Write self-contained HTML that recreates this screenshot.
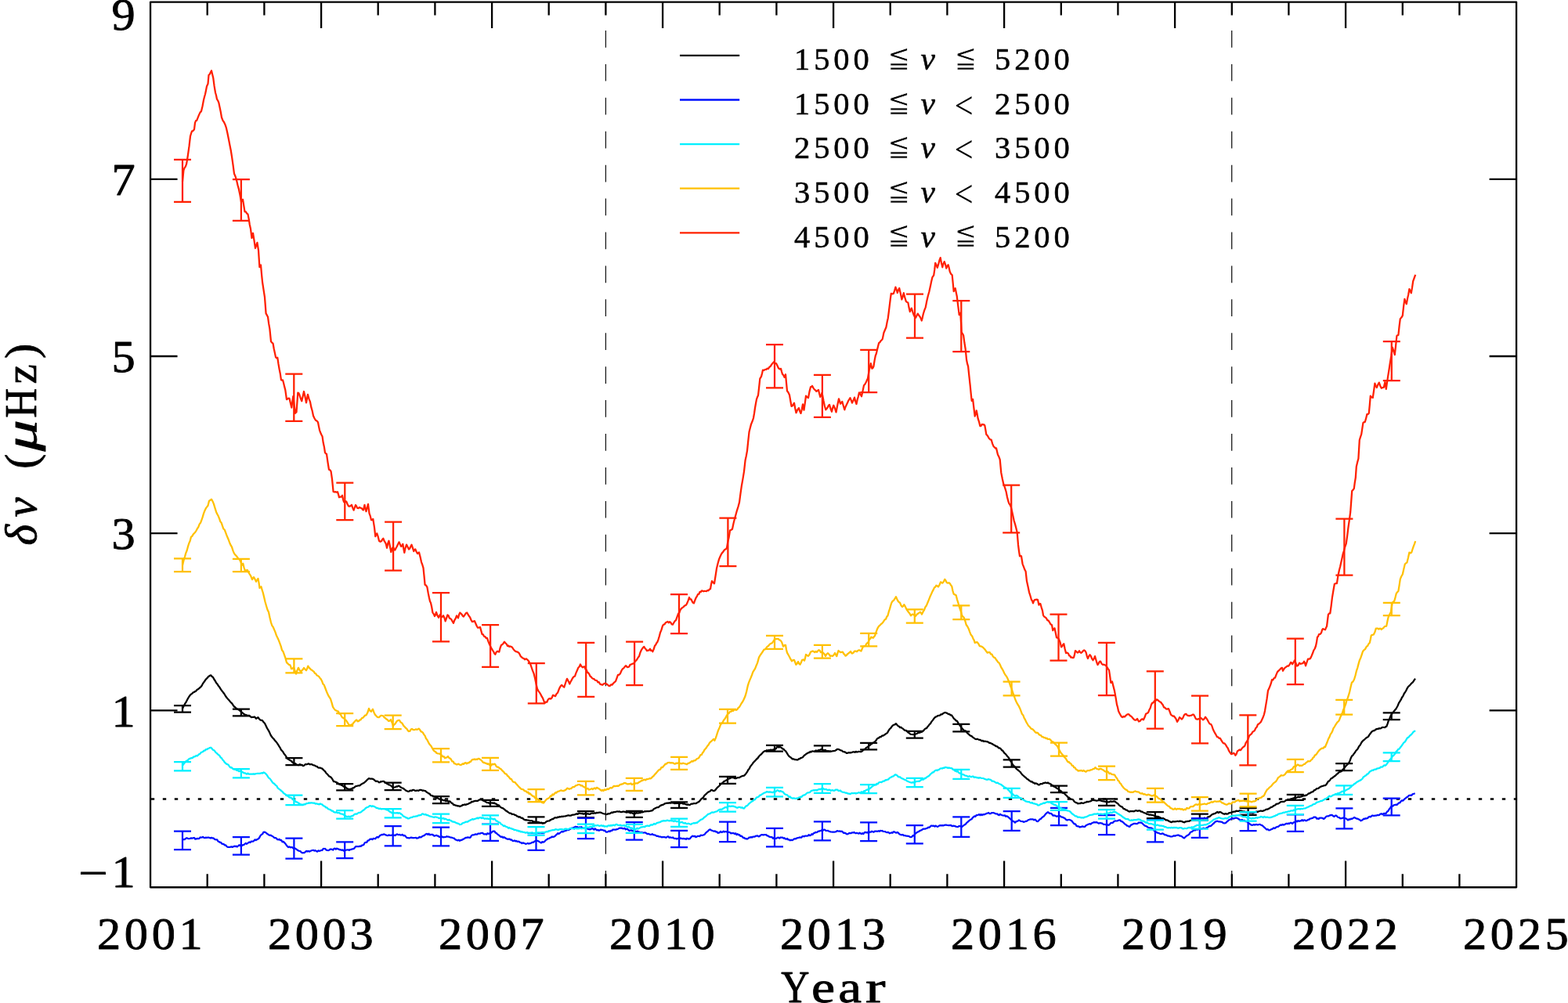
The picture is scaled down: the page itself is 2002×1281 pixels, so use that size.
<!DOCTYPE html>
<html lang="en"><head><meta charset="utf-8"><title>Frequency shift vs year</title>
<style>
html,body{margin:0;padding:0;background:#fff;}
body{width:2002px;height:1281px;overflow:hidden;}
svg{display:block;}
.t{font-family:"Liberation Serif",serif;fill:#000;}
.ax{font-size:57px;letter-spacing:4.42px;stroke:#000;stroke-width:0.8px;stroke-linejoin:round;}
.lg{font-size:40.5px;letter-spacing:4.9px;stroke:#000;stroke-width:0.5px;stroke-linejoin:round;}
.m{font-family:"DejaVu Sans",sans-serif;}
.op{stroke:#fff;stroke-width:0.9px;letter-spacing:0;}
.ltc{letter-spacing:0;stroke:none;}
.i{font-style:italic;}
.fr{fill:none;stroke:#000;stroke-width:2.3;stroke-linejoin:round;}
.c{fill:none;stroke-width:2.25;stroke-linejoin:round;stroke-linecap:butt;}
</style></head><body>
<svg width="2002" height="1281" viewBox="0 0 2002 1281">
<rect x="0" y="0" width="2002" height="1281" fill="#fff"/>
<path d="M192.8 1020.45H1936" fill="none" stroke="#000" stroke-width="2.4" stroke-dasharray="4.4 10.6"/>
<path d="M773.4 2.4V1133" fill="none" stroke="#1a1a1a" stroke-width="1.3" stroke-dasharray="21.7 21.22" stroke-dashoffset="6.32"/>
<path d="M1572.7 2.4V1133" fill="none" stroke="#1a1a1a" stroke-width="1.3" stroke-dasharray="21.7 21.22" stroke-dashoffset="6.32"/>
<path class="c" stroke="#000000" d="M233 905L234.5 901.7L236 899L237.3 897.2L238.7 894.5L240 892L241.3 889.9L242.7 887.8L244 886.6L245.2 885.9L246.5 884.4L247.8 884L249 883.1L250.2 882.6L251.5 881L252.8 880.2L254 879.4L255.3 878.2L256.7 877L258 875.1L259.3 872.6L260.7 870.8L262 868.8L263.3 867.1L264.7 865.9L266 864.2L267.1 863.5L268.2 862.8L269.3 862.4L270.6 864.1L272 864.9L273.3 867.5L274.7 869.5L276 871.9L277.3 873.4L278.7 875.7L280 877.2L281.3 879.3L282.7 881.5L284 883.1L285.3 884.8L286.7 886.7L288 889L289.3 890.7L290.7 892.4L292 893.8L293.3 895.4L294.7 897.1L296 898.1L297.5 900.4L299 902.5L300.2 903.3L301.5 904.6L302.8 905.6L304 906L305.3 906.8L306.7 907.9L308 909.1L309.3 910.2L310.7 911.3L312 912.3L313.2 913L314.5 913.2L315.8 913.8L317 913.8L318.3 913.8L319.7 915.1L321 916.1L322.3 915.9L323.7 915.9L325 915.5L326 916.5L327 917.8L328.2 917L329.5 916.2L330.8 918L332 919.2L333.5 919.9L335 920.2L336.5 922.3L338 923.8L339.5 926.7L341 930L342.5 932.4L344 935.1L345.5 938.6L347 941.1L348.3 942.6L349.7 943.8L351 945.8L352.3 947.1L353.7 948.9L355 950.8L356.2 952.9L357.5 954.8L358.8 957.5L360 958.8L361.3 960.2L362.7 962.8L364 964.2L365.5 966.5L367 969L368.3 969.7L369.7 970.6L371 971.5L372.2 972L373.5 973.9L374.8 974.6L376 975.2L377.3 975.2L378.7 976.5L380 976.8L381.3 977.1L382.7 976.1L384 976.5L385.5 976.8L387 978.2L388.5 977.5L390 976L391.5 976.3L393 975.7L394.3 975.3L395.7 976.3L397 976.2L398.2 976.2L399.5 977.2L400.8 977.3L402 977.8L403.3 978.6L404.7 978.9L406 980.2L407.2 980.6L408.5 980.5L409.8 981.1L411 981.4L412.3 982.6L413.7 984L415 985.2L416.3 987.2L417.7 988.5L419 990L420.3 991.5L421.7 992.1L423 993.1L424.5 995.3L426 998.2L427.2 998.1L428.5 998.9L429.8 999.2L431 999.9L432.2 1000.9L433.5 1002L434.8 1001.7L436 1003L437.2 1003.2L438.5 1004.4L439.8 1004.8L441 1005.2L442.3 1006.6L443.7 1007.2L445 1007.9L446.3 1008.1L447.7 1007.7L449 1007.5L450.3 1006.3L451.7 1006.3L453 1005L454.2 1004.2L455.5 1004L456.8 1003.5L458 1003.4L459.2 1003.3L460.4 1002.3L461.6 1001.4L462.8 1000.8L464 1000.3L465.3 999.3L466.7 998.2L468 996.8L469.5 995.4L471 994.2L472.2 994.5L473.5 994.5L474.8 994.6L476 994.9L477.3 995.6L478.7 996.8L480 997.8L481.2 997.7L482.5 998L483.8 999.3L485 999.2L486.2 998.2L487.5 998.3L488.8 997.8L490 997.9L491.3 999.1L492.7 999.7L494 1001L495.2 1001.3L496.5 1002.3L497.8 1002.5L499 1003.5L500.5 1004.7L502 1005.9L503.3 1005.5L504.7 1005.3L506 1004.4L507.3 1004.7L508.7 1003.7L510 1004.1L511.2 1005.1L512.5 1006L513.8 1006.5L515 1006.9L516.3 1008.2L517.7 1009.2L519 1010L520.5 1010.6L522 1010.8L523.2 1009.9L524.5 1009.6L525.8 1010L527 1008.8L528.2 1008.9L529.5 1009.6L530.8 1009.9L532 1009.6L533.2 1009.5L534.5 1009.8L535.8 1008.9L537 1008.8L538.2 1009L539.5 1009.8L540.8 1009.5L542 1010L543.3 1010.2L544.7 1011.7L546 1012.2L547.2 1013.5L548.5 1013.6L549.8 1015.6L551 1016.2L552.3 1016.3L553.7 1017.2L555 1017.8L556.2 1018.3L557.5 1019.3L558.8 1019L560 1020.1L561.2 1020.8L562.5 1020.3L563.8 1020.8L565 1021.7L566.2 1022.3L567.5 1022L568.8 1023.1L570 1023.1L571.2 1022.7L572.5 1023.8L573.8 1023.4L575 1023.9L576.3 1025.6L577.7 1025.8L579 1027.8L580.3 1027.9L581.7 1028.7L583 1028.9L584.3 1029.4L585.7 1029.3L587 1030L588.2 1029.4L589.5 1029.1L590.8 1027.9L592 1028.1L593.2 1027.4L594.5 1027.9L595.8 1027.2L597 1027.1L598.5 1026.2L600 1025.4L601 1025.3L602 1023.9L603.2 1024.2L604.4 1023.6L605.6 1023.1L606.8 1022.9L608 1022.9L609.2 1022.9L610.4 1022.6L611.6 1021.6L612.8 1021.4L614 1021.3L615.2 1021.4L616.4 1022.2L617.6 1022.9L618.8 1023.2L620 1024.1L621.2 1024.7L622.4 1025.2L623.6 1025.2L624.8 1026.2L626 1026L627.2 1025.5L628.5 1025.4L629.8 1025.9L631 1025.3L632.2 1026.4L633.5 1026.6L634.8 1027.9L636 1028.2L637.2 1028.6L638.4 1030.3L639.6 1031.2L640.8 1031.9L642 1032.2L643.2 1033.2L644.4 1033.8L645.6 1035.4L646.8 1035.7L648 1036.8L649.2 1037.5L650.4 1038.5L651.6 1038.5L652.8 1039.1L654 1040L655.2 1039.8L656.4 1040.2L657.6 1041L658.8 1041.2L660 1042.4L661.2 1042.7L662.4 1043.6L663.6 1043.2L664.8 1044.2L666 1044.9L667.2 1044.7L668.4 1046.2L669.6 1046.9L670.8 1047.3L672 1047.2L673.2 1047.5L674.4 1047.7L675.6 1047.9L676.8 1048.4L678 1048.1L679.2 1048.1L680.4 1049.4L681.6 1049.2L682.8 1049.7L684 1049.8L685.2 1050.2L686.5 1049.8L687.8 1050.1L689 1050.6L690.2 1050.9L691.5 1050.6L692.8 1051.7L694 1051.2L695.2 1051.2L696.5 1050.3L697.8 1049.1L699 1048.7L700.2 1048.5L701.5 1048.4L702.8 1047.1L704 1046.7L705.2 1045.9L706.4 1046.1L707.6 1044.8L708.8 1044.2L710 1044.3L711.2 1044.3L712.4 1043.5L713.6 1043.7L714.8 1043L716 1043.3L717.2 1042.6L718.4 1043L719.6 1042.6L720.8 1042.5L722 1042.4L723.2 1041.9L724.4 1041.6L725.6 1041.2L726.8 1041.6L728 1041.5L729.2 1041.5L730.4 1040.8L731.6 1040.5L732.8 1040.5L734 1040.3L735.2 1039.7L736.4 1039.4L737.6 1039.8L738.8 1038.7L740 1038.6L741.2 1038.9L742.4 1039.1L743.6 1038.9L744.8 1039.7L746 1039.2L747.2 1039.5L748.4 1040.1L749.6 1039.3L750.8 1039.2L752 1039.9L753.2 1039.9L754.4 1039L755.6 1038.7L756.8 1038.5L758 1038.8L759.2 1038.2L760.4 1038.7L761.6 1037.9L762.8 1038.2L764 1037.9L765.2 1037.7L766.4 1037.6L767.6 1037.9L768.8 1038.5L770 1039L771.3 1039.3L772.7 1039.5L774 1040.2L775.2 1040L776.4 1039.1L777.6 1039.4L778.8 1039L780 1038.2L781.2 1037.5L782.4 1038L783.6 1037L784.8 1037.2L786 1036.9L787.2 1036.5L788.4 1036.3L789.6 1036.7L790.8 1036.3L792 1037L793.2 1037.1L794.4 1036.9L795.6 1036.5L796.8 1036.6L798 1037L799.2 1037.4L800.4 1037.7L801.6 1037L802.8 1037.4L804 1037.9L805.2 1038.4L806.4 1037.8L807.6 1038.6L808.8 1039.1L810 1038.8L811.2 1039.1L812.4 1037.9L813.6 1038.4L814.8 1038.5L816 1037.9L817.2 1038.2L818.4 1037.5L819.6 1037.2L820.8 1037.3L822 1036.8L823.2 1036.1L824.4 1036.4L825.6 1036.1L826.8 1036.1L828 1036L829.3 1036L830.7 1035.7L832 1035.3L833.2 1035.1L834.5 1033.3L835.8 1032.8L837 1032L838.2 1031.5L839.5 1031L840.8 1031L842 1029.9L843.2 1028.9L844.5 1028.4L845.8 1027.9L847 1027.6L848.2 1026.8L849.5 1026.1L850.8 1025.8L852 1025.5L853.2 1025.9L854.4 1025.2L855.6 1025.8L856.8 1025.1L858 1025.5L859.2 1025.4L860.4 1025.8L861.6 1026.2L862.8 1025.5L864 1026L865.2 1025.6L866.4 1026L867.6 1025.9L868.8 1026.1L870 1025.4L871.2 1026.1L872.4 1026.7L873.6 1026.1L874.8 1027L876 1027.4L877.2 1027.8L878.5 1027.4L879.8 1028.1L881 1027.8L882.2 1026.9L883.5 1026.5L884.8 1026.5L886 1026L887.3 1026.2L888.7 1026.1L890 1025.2L891.3 1024.5L892.7 1023.8L894 1022.1L895.3 1020.5L896.7 1019.5L898 1018.4L899.2 1016.3L900.5 1014.9L901.8 1013.9L903 1012.6L904.2 1011.7L905.5 1011L906.8 1010.4L908 1008.9L909.3 1009.2L910.7 1010.2L912 1010L913.3 1009L914.7 1007.2L916 1005.6L917.2 1004.8L918.5 1003.5L919.8 1002L921 1001L922.2 1000L923.5 998.9L924.8 997.7L926 997.2L927.3 996.6L928.7 995.6L930 994.7L931.2 994.3L932.5 993.9L933.8 993.1L935 992.9L936.2 993.1L937.5 993.8L938.8 994.2L940 994.1L941.2 993.4L942.5 993.1L943.8 993.2L945 992.4L946.2 991.8L947.5 991.2L948.8 990.9L950 990.7L951.3 989.4L952.7 987.7L954 985.9L955.3 983.3L956.7 981.7L958 979L959.3 977.4L960.7 975.6L962 973.7L963.3 972.4L964.7 970.9L966 969.5L967.3 968.5L968.7 966.5L970 964.9L971.3 963.9L972.7 962.5L974 961L975.2 959.9L976.5 959.1L977.8 959.3L979 958.2L980.2 958.7L981.5 958L982.8 958.1L984 957.6L985.2 957.8L986.4 957.7L987.6 957.8L988.8 956.5L990 956.7L991 955.9L992 953.9L993.2 953.7L994.4 954.6L995.6 954L996.8 954.4L998 955.1L999.2 956.5L1000.5 956.7L1001.8 958.4L1003 959.1L1004.5 961.4L1006 963.8L1007.2 965.6L1008.5 966.7L1009.8 967.4L1011 968.7L1012.2 969.5L1013.5 969.4L1014.8 970.2L1016 970.2L1017.2 970.4L1018.5 970.5L1019.8 969.2L1021 969.3L1022.2 968.1L1023.5 967.8L1024.8 967.3L1026 965.7L1027.2 964.4L1028.5 963.7L1029.8 962.5L1031 962.1L1032.2 961.1L1033.4 961.1L1034.6 959.9L1035.8 960.4L1037 959.4L1038.2 959.5L1039.4 959.6L1040.6 959.2L1041.8 958.5L1043 959L1044.2 958.5L1045.4 957.9L1046.6 958L1047.8 957.4L1049 956.9L1050.2 957.6L1051.4 958.1L1052.6 958L1053.8 957.9L1055 959L1056.2 959L1057.5 959.1L1058.8 959.8L1060 959.3L1061.2 959.6L1062.5 959.5L1063.8 959L1065 959L1066.2 958.8L1067.5 958.1L1068.8 956.9L1070 956.9L1071.2 957.3L1072.4 957.8L1073.6 958.4L1074.8 958.5L1076 959.7L1077.2 960.2L1078.4 960.4L1079.6 960.9L1080.8 961.8L1082 961.8L1083.2 961.2L1084.4 961.4L1085.6 961.2L1086.8 961.3L1088 960.8L1089.2 960.4L1090.4 960.4L1091.6 960.8L1092.8 959.8L1094 960.5L1095.2 960.3L1096.4 959.8L1097.6 960L1098.8 960.2L1100 959.9L1101.2 959.1L1102.5 957.4L1103.8 957.2L1105 956.1L1106.2 954.8L1107.5 954.3L1108.8 953.1L1110 951.9L1111.2 951.4L1112.4 950.1L1113.6 949.6L1114.8 948.7L1116 948L1117.2 947.2L1118.5 945.8L1119.8 943.6L1121 942.8L1122.2 942.4L1123.5 941.2L1124.8 941.2L1126 939.7L1127.2 939.6L1128.4 939.1L1129.6 938.4L1130.8 937.2L1132 936.8L1133.3 935.4L1134.7 932.8L1136 931L1137.3 929.9L1138.7 927.8L1140 926.4L1141.3 925.6L1142.7 925.4L1144 924.2L1145.3 925.7L1146.7 927.2L1148 927.7L1149.2 929.2L1150.5 928.9L1151.8 930.1L1153 930.8L1154.2 932L1155.5 932.9L1156.8 932.8L1158 933.8L1159.2 935.2L1160.5 936L1161.8 937.2L1163 937.9L1164.2 938L1165.5 938.2L1166.8 938.2L1168 937.9L1169.2 937.5L1170.5 937L1171.8 936.2L1173 936L1174.2 935.6L1175.5 935.1L1176.8 935L1178 933.9L1179.2 933.2L1180.5 931.4L1181.8 930.4L1183 930.1L1184.2 928.3L1185.5 926.9L1186.8 925.1L1188 924.1L1189.3 921.8L1190.7 920.1L1192 918.3L1193.3 916.6L1194.7 915.5L1196 915.1L1197.3 914.1L1198.7 913.9L1200 913.7L1201.3 912.4L1202.7 912.3L1204 911.3L1205.5 910.4L1207 910L1208.3 910.5L1209.7 911.1L1211 912.1L1212.3 912.2L1213.7 913.4L1215 913.4L1216.5 915.6L1218 917.8L1219.3 918.8L1220.7 920.4L1222 920.8L1223.5 923.6L1225 925.7L1226.3 927.5L1227.7 929.7L1229 930.8L1230.2 932.5L1231.5 933L1232.8 933.3L1234 934.7L1235.2 936.5L1236.5 937.4L1237.8 938.6L1239 939.6L1240.2 939.8L1241.5 941.1L1242.8 942.1L1244 942.9L1245.2 943.8L1246.4 944.2L1247.6 943.7L1248.8 944.3L1250 944.8L1251.2 944.8L1252.4 945.5L1253.6 946.4L1254.8 945.9L1256 947L1257.2 946.7L1258.4 946.9L1259.6 947.1L1260.8 947.4L1262 947.8L1263.2 948.9L1264.4 948.8L1265.6 949.6L1266.8 949.9L1268 950.9L1269.2 951.5L1270.4 952.1L1271.6 953.2L1272.8 953.2L1274 954L1275.2 955.4L1276.5 955.4L1277.8 956.4L1279 958.1L1280.2 958.6L1281.5 960.5L1282.8 962.2L1284 963.1L1285.2 964.6L1286.5 966.3L1287.8 967.6L1289 970.1L1290.2 971.8L1291.5 973.5L1292.8 976.3L1294 977.7L1295.2 978.8L1296.5 980.3L1297.8 982L1299 983L1300.2 983.8L1301.5 985L1302.8 986.1L1304 987.9L1305.2 989.4L1306.5 990.5L1307.8 991.6L1309 992.7L1310.2 993.7L1311.5 995L1312.8 995.6L1314 996.8L1315.2 997.5L1316.4 998.5L1317.6 998.1L1318.8 999.6L1320 999.7L1321.2 1000.8L1322.4 1000.4L1323.6 1000.8L1324.8 1001.4L1326 1002.4L1327.2 1002.3L1328.4 1001.1L1329.6 1001L1330.8 1001.1L1332 1000L1333.2 1000.2L1334.4 999.5L1335.6 999.7L1336.8 1000.2L1338 999.5L1339 1000.5L1340 1000.7L1341.5 1001.4L1343 1002.8L1344.5 1003.6L1346 1004.8L1347.5 1005.3L1349 1006.5L1350.5 1007.2L1352 1008.4L1353.5 1009.9L1355 1010.5L1356.5 1012.7L1358 1012.9L1359.5 1013.9L1361 1015.5L1362.5 1016.9L1363.7 1018.3L1365 1018.7L1366.2 1020L1367.5 1020.6L1368.7 1020.8L1370 1021.3L1371.2 1023.2L1372.5 1024.4L1373.7 1025.1L1375 1025.4L1376.2 1026.4L1377.5 1026.2L1379 1026.2L1380.5 1025.3L1382 1025.7L1383.5 1025.9L1385 1024.8L1386.5 1024.7L1388 1023.8L1389.5 1024.2L1391 1023.5L1392.5 1023.3L1393.9 1022.4L1395.4 1021.6L1396.9 1022.2L1398.4 1022.2L1399.9 1022.7L1401.4 1022.5L1402.9 1022L1404.4 1022.2L1405.9 1022.6L1407.4 1023.1L1408.9 1023.4L1410.4 1023.7L1411.9 1024L1413.4 1024.2L1414.9 1024.4L1416.4 1024.3L1417.9 1023.4L1419.4 1023.9L1420.9 1023.7L1422.4 1023.4L1423.9 1023.8L1425.4 1025.2L1426.9 1026.1L1428.4 1027.8L1429.9 1029.1L1431.4 1030.1L1432.9 1030.6L1434.4 1032.8L1435.9 1033.2L1437.4 1034.5L1438.9 1034.6L1440.4 1035.9L1441.9 1036.6L1443.4 1036L1444.9 1036.2L1446.4 1036L1447.9 1036.3L1449.4 1035.4L1450.9 1035.2L1452.4 1035.8L1453.9 1035.4L1455.4 1035.3L1456.9 1036.6L1458.4 1036.7L1459.9 1037.8L1461.4 1038.3L1462.9 1038.7L1464.4 1039.8L1465.9 1039.9L1467.4 1040.7L1468.9 1040.5L1470.4 1040.9L1471.9 1041.1L1473.4 1041.8L1474.9 1042.3L1476.4 1042.8L1477.9 1042.8L1479.4 1043.2L1480.9 1044L1482.4 1045L1483.9 1045.6L1485.4 1045.3L1486.9 1046L1488.4 1047.3L1489.9 1047.4L1491.4 1048L1492.9 1049L1494.4 1049.6L1495.9 1050.2L1497.4 1049.1L1498.9 1049.4L1500.4 1049.3L1501.9 1049.2L1503.4 1048.7L1504.9 1049.2L1506.3 1048.6L1507.8 1048.9L1509.3 1049.2L1510.8 1049.9L1512.3 1050.3L1513.8 1049.3L1515.3 1049.1L1516.8 1048.9L1518.3 1048.8L1519.8 1048L1521.3 1047.7L1522.8 1046.6L1524.3 1046.2L1525.8 1046.1L1527.3 1045.4L1528.8 1045.4L1530.3 1045.4L1531.8 1045.5L1533.3 1045.2L1534.8 1045.2L1536.3 1045.4L1537.8 1044.6L1539.3 1045L1540.8 1044.8L1542.3 1043.4L1543.8 1043.2L1545.3 1042.2L1546.8 1040.8L1548.3 1039.9L1549.8 1039.4L1551.3 1039L1552.8 1038L1554.3 1037L1555.8 1038L1557.3 1037L1558.8 1037.3L1560.3 1038.4L1561.8 1039.2L1563.3 1039.8L1564.8 1039.1L1566.3 1039.6L1567.8 1039.5L1569.3 1038.2L1570.8 1038.1L1572.3 1037.5L1573.8 1037.1L1575.3 1036.7L1576.8 1036.7L1578.3 1035.7L1579.8 1035.8L1581.3 1035.9L1582.8 1035.2L1584.3 1035.7L1585.8 1035.9L1587.3 1036.6L1588.8 1036.4L1590 1037.1L1591.2 1036.8L1592.4 1037.3L1593.6 1037L1594.8 1037.9L1596 1038.1L1597.2 1038L1598.4 1038.1L1599.6 1038.5L1600.8 1037.7L1602 1037.2L1603.2 1036.8L1604.4 1036.5L1605.6 1037.1L1606.8 1036.3L1608 1036L1609.2 1035.6L1610.3 1035.7L1611.5 1035.9L1612.7 1035.6L1613.9 1035.1L1615.1 1034.7L1616.3 1033.8L1617.5 1033.5L1618.7 1033.5L1619.9 1032.8L1621.1 1032.3L1622.3 1031.2L1623.5 1031L1624.7 1030.3L1625.9 1029.3L1627.1 1028.7L1628.3 1028.2L1629.5 1026.8L1630.7 1026.6L1632.2 1026.4L1633.7 1025.3L1635.2 1024.2L1636.4 1024L1637.6 1023.9L1638.8 1023.9L1640 1023.6L1641 1022.9L1642 1021.9L1643.2 1022L1644.4 1020.9L1645.6 1021.4L1646.8 1020.8L1648 1020.6L1649.2 1020.9L1650.4 1019.7L1651.6 1019.9L1652.8 1018.6L1654 1019L1655.2 1018.8L1656.4 1018.2L1657.6 1017.4L1658.8 1018.2L1660 1017.5L1661.2 1017.6L1662.4 1017L1663.6 1016.7L1664.8 1016L1666 1016.4L1667.2 1015.5L1668.4 1015.5L1669.6 1014.5L1670.8 1013.4L1672 1013.3L1673.2 1012.5L1674.4 1011.7L1675.6 1011.5L1676.8 1010.8L1678 1009.2L1679.3 1008.9L1680.7 1007.4L1682 1007.1L1683.3 1006.9L1684.7 1005.7L1686 1004.8L1687.2 1004.4L1688.4 1004L1689.6 1003.6L1690.8 1003.2L1692 1003.2L1693.3 1002.1L1694.7 999.9L1696 997.9L1697.2 997.4L1698.4 995.9L1699.6 994.2L1700.8 993.8L1702 992.7L1703.2 991.9L1704.4 991L1705.6 990.1L1706.8 988.7L1708 988L1709.2 986.5L1710.5 985.9L1711.8 985.4L1713 984.9L1714.3 983L1715.7 981.9L1717 979.9L1718.2 978.5L1719.5 977.2L1720.8 975.9L1722 974.6L1723.3 972.3L1724.7 968.3L1726 965.7L1727.3 964.6L1728.7 962.6L1730 961L1731.3 958.8L1732.7 957.5L1734 955.6L1735.3 952.9L1736.7 951.4L1738 948.9L1739.3 947L1740.7 945.6L1742 944.6L1743.2 943.5L1744.5 942.3L1745.8 941.6L1747 940.9L1748.3 938.6L1749.7 936.8L1751 935L1752.2 933.9L1753.5 933.2L1754.8 933.2L1756 931.9L1757.2 931.4L1758.4 930.9L1759.6 931L1760.8 930.1L1762 930.5L1763.2 930.2L1764.5 929.2L1765.8 928.8L1767 929L1768.1 929.1L1769.2 928.2L1770.3 927.9L1771.7 924.2L1773 919.9L1774.3 917.4L1775.7 914L1777 911.9L1778.2 910.2L1779.5 908.8L1780.8 907.1L1782 905.9L1783.3 903.7L1784.7 901.2L1786 897.8L1787.3 895.8L1788.7 893.7L1790 890.8L1791.3 889.1L1792.7 886L1794 884.1L1795.3 882L1796.7 879.1L1798 877L1799.3 875.8L1800.7 874.5L1802 872.9L1803.2 871.9L1804.5 870.4L1805.8 868.3L1807 866.7"/>
<path class="c" stroke="#000000" d="M233.0 901.0 V909.6 M222.0 901.0 h22 M222.0 909.6 h22M307.9 905.6 V914.4 M296.9 905.6 h22 M296.9 914.4 h22M375.4 968.0 V977.2 M364.4 968.0 h22 M364.4 977.2 h22M440.2 1001.0 V1009.4 M429.2 1001.0 h22 M429.2 1009.4 h22M501.7 999.6 V1009.0 M490.7 999.6 h22 M490.7 1009.0 h22M563.0 1017.0 V1026.0 M552.0 1017.0 h22 M552.0 1026.0 h22M626.0 1021.8 V1029.8 M615.0 1021.8 h22 M615.0 1029.8 h22M684.5 1043.4 V1051.2 M673.5 1043.4 h22 M673.5 1051.2 h22M748.0 1036.0 V1044.0 M737.0 1036.0 h22 M737.0 1044.0 h22M809.8 1035.8 V1043.9 M798.8 1035.8 h22 M798.8 1043.9 h22M867.1 1024.4 V1031.8 M856.1 1024.4 h22 M856.1 1031.8 h22M929.0 991.9 V1000.8 M918.0 991.9 h22 M918.0 1000.8 h22M989.0 951.9 V959.5 M978.0 951.9 h22 M978.0 959.5 h22M1049.9 952.3 V959.9 M1038.9 952.3 h22 M1038.9 959.9 h22M1109.1 948.9 V957.3 M1098.1 948.9 h22 M1098.1 957.3 h22M1167.8 933.9 V942.5 M1156.8 933.9 h22 M1156.8 942.5 h22M1227.3 924.9 V934.3 M1216.3 924.9 h22 M1216.3 934.3 h22M1291.7 970.3 V979.5 M1280.7 970.3 h22 M1280.7 979.5 h22M1352.0 1003.7 V1012.1 M1341.0 1003.7 h22 M1341.0 1012.1 h22M1413.0 1020.3 V1028.9 M1402.0 1020.3 h22 M1402.0 1028.9 h22M1474.9 1037.1 V1045.1 M1463.9 1037.1 h22 M1463.9 1045.1 h22M1531.8 1039.7 V1047.5 M1520.8 1039.7 h22 M1520.8 1047.5 h22M1593.6 1032.2 V1040.9 M1582.6 1032.2 h22 M1582.6 1040.9 h22M1653.8 1014.8 V1021.8 M1642.8 1014.8 h22 M1642.8 1021.8 h22M1716.2 975.2 V984.2 M1705.2 975.2 h22 M1705.2 984.2 h22M1776.7 910.3 V919.1 M1765.7 910.3 h22 M1765.7 919.1 h22"/>
<path class="c" stroke="#0010ff" d="M233 1072.9L234.3 1072L235.7 1072.2L237 1070.9L238.4 1070.2L239.8 1070.8L241.2 1071.1L242.6 1071L244 1070.3L245.3 1070.7L246.7 1070.2L248 1070L249.3 1071.7L250.7 1071.3L252 1070.9L253.2 1071.2L254.4 1070.9L255.6 1069.3L256.8 1069.7L258 1069.5L259.2 1068.8L260.4 1070L261.6 1070.2L262.8 1069.6L264 1069.8L265.2 1069.7L266.4 1069.6L267.6 1070L268.8 1070.5L270 1069.8L271.2 1070.5L272.4 1070.3L273.6 1071.5L274.8 1072.2L276 1072.3L277.2 1072.4L278.4 1074.5L279.6 1075L280.8 1075.8L282 1075.8L283.2 1077.7L284.5 1077.8L285.8 1078.2L287 1079.5L288.2 1079.4L289.5 1081.1L290.8 1081.9L292 1081.9L293.2 1082L294.4 1081.6L295.6 1081.4L296.8 1081.9L298 1081.3L299.2 1080.6L300.4 1081.2L301.6 1080.6L302.8 1081.5L304 1080.5L305.2 1079.3L306.4 1080L307.6 1078.8L308.8 1080.1L310 1079.1L311.2 1079.1L312.4 1078L313.6 1077L314.8 1077.8L316 1077.1L317.2 1076.2L318.4 1075.5L319.6 1076L320.8 1074.6L322 1074.5L323.2 1074.6L324.4 1073.7L325.6 1072.3L326.8 1073.1L328 1072.3L329.5 1071.6L331 1070.1L332.5 1067.3L334 1065.7L335.2 1065.3L336.3 1062.9L337.5 1062.7L339 1063L340.5 1064.5L342 1065.4L343.2 1066.4L344.4 1066.8L345.6 1066.7L346.8 1067.5L348 1068L349.2 1069L350.5 1070.2L351.8 1070.1L353 1070.7L354.2 1072.2L355.5 1072.4L356.8 1071.9L358 1073.1L359.2 1073L360.5 1075.3L361.8 1074.8L363 1076.2L364.3 1077.4L365.7 1079.5L367 1081L368.2 1082.1L369.5 1081.5L370.8 1082.3L372 1082L373.2 1082.2L374.5 1083.5L375.8 1082.9L377 1083.8L378.2 1084.4L379.5 1085.5L380.8 1086.4L382 1086.8L383.4 1087L384.9 1088.7L386.3 1089.3L387.5 1089L388.8 1089.1L390 1087.8L391.2 1086.8L392.4 1087.6L393.6 1087L394.8 1087.6L396 1087.1L397.3 1086.5L398.7 1086L400 1085.8L401.3 1086.6L402.7 1086.2L404 1087.1L405.2 1087.6L406.5 1086.4L407.8 1086.8L409 1086.5L410.2 1085.9L411.5 1086L412.8 1083.8L414 1084L415.2 1083.9L416.5 1085.6L417.8 1085.8L419 1086.2L420.2 1085.8L421.5 1084.7L422.8 1084.5L424 1084.9L425.2 1085.5L426.4 1083.8L427.6 1083.6L428.8 1084.7L430 1083.6L431.2 1084.2L432.5 1084.6L433.8 1085.3L435 1085.2L436.2 1085.9L437.5 1085.3L438.8 1086.6L440 1086.3L441.2 1085.8L442.4 1085.5L443.6 1085.4L444.8 1085.4L446 1085.9L447.2 1085L448.5 1084.9L449.8 1084.3L451 1084.1L452.2 1083.6L453.5 1081.8L454.8 1081L456 1081.1L457.2 1081.1L458.4 1081.2L459.6 1080.6L460.8 1080.8L462 1079.7L463.2 1079.5L464.5 1078.7L465.8 1076.2L467 1075.8L468.2 1075.8L469.5 1073.7L470.8 1073.4L472 1072.1L473.2 1071.6L474.4 1071.5L475.6 1072.2L476.8 1070.8L478 1071L479.2 1071.3L480.4 1069.8L481.6 1068.8L482.8 1069.7L484 1068.4L485.2 1067.1L486.4 1066.5L487.6 1065.9L488.8 1066.2L490 1065.3L491.2 1065.8L492.5 1066.4L493.8 1066.9L495 1067.2L496.4 1066.4L497.8 1066.8L499.2 1066.8L500.6 1066.5L502 1067L503.2 1066.6L504.4 1067L505.6 1066.2L506.8 1065.4L508 1065.8L509.2 1066.1L510.4 1065.9L511.6 1066.6L512.8 1066.4L514 1065.9L515.2 1067.4L516.4 1067L517.6 1067.8L518.8 1069.4L520 1070.2L521.2 1070.2L522.4 1070.5L523.6 1070L524.8 1069.6L526 1069.9L527.2 1070.2L528.4 1070.2L529.6 1070L530.8 1069.8L532 1070.6L533.2 1070.3L534.4 1070.2L535.6 1068.8L536.8 1069.4L538 1069.1L539.2 1068L540.4 1067.4L541.6 1067.2L542.8 1066L544 1065.2L545.2 1064.8L546.4 1065.9L547.6 1064.8L548.8 1066.4L550 1065.8L551.2 1065.9L552.4 1065.9L553.6 1067.1L554.8 1067.6L556 1067.2L557.2 1066.8L558.4 1067.6L559.6 1067.7L560.8 1068.8L562 1068.8L563.2 1069.2L564.4 1068.5L565.6 1069.4L566.8 1069.1L568 1069.2L569.2 1069L570.4 1068.2L571.6 1068.6L572.8 1068.6L574 1069.2L575.2 1069.5L576.4 1069.5L577.6 1070L578.8 1070.4L580 1070.7L581.4 1072.4L582.8 1072.7L584.2 1073.4L585.6 1072.7L587 1073.9L588.2 1072.8L589.4 1073L590.6 1072.1L591.8 1071.6L593 1071L594.4 1069.9L595.8 1069.8L597.2 1069.4L598.6 1069.6L600 1069.8L601 1069L602 1067.1L603.2 1066.4L604.4 1066.3L605.6 1066.2L606.8 1065.3L608 1065.6L609.2 1065.7L610.4 1064.7L611.6 1064.6L612.8 1064.7L614 1064L615.2 1063.8L616.4 1063.9L617.6 1065.3L618.8 1065.4L620 1065.2L621.2 1065.8L622.4 1064.1L623.6 1064.9L624.8 1064.6L626 1063.5L627.4 1063.5L628.7 1062L630 1061.5L631.4 1061.6L632.6 1063.6L633.8 1063.9L635 1065.3L636.2 1066.2L637.5 1067.2L638.8 1068.4L640 1068.9L641.2 1068.6L642.4 1069.9L643.6 1069.2L644.8 1070L646 1070.8L647.2 1071.4L648.4 1071.8L649.6 1071.5L650.8 1071.7L652 1072.7L653.2 1072.3L654.4 1073.9L655.6 1074.1L656.8 1073.4L658 1074.4L659.2 1073.9L660.4 1074.8L661.6 1074.7L662.8 1074.8L664 1075.8L665.2 1076.1L666.4 1077.1L667.6 1076.4L668.8 1076.9L670 1077.1L671.2 1077.9L672.5 1077.5L673.8 1077L675 1077.6L676.2 1077.2L677.5 1077.1L678.8 1076.3L680 1075.6L681.2 1075.8L682.5 1074.5L683.8 1073.9L685 1073.9L686.2 1073.9L687.4 1074.3L688.6 1075.1L689.8 1075.8L691 1076.5L692.2 1075.2L693.5 1075.6L694.8 1075.2L696 1073.9L697.2 1072.7L698.5 1072L699.8 1071L701 1070.9L702.2 1069.9L703.5 1069.7L704.8 1068.5L706 1069L707.2 1068.7L708.5 1068.1L709.8 1066.6L711 1065.6L712.2 1064.2L713.5 1064.9L714.8 1064L716 1063L717.2 1062L718.5 1062.5L719.8 1061.7L721 1061.2L722.2 1061.1L723.5 1060.5L724.8 1059.6L726 1060.1L727.2 1059.4L728.5 1058.5L729.8 1057.7L731 1057.7L732.2 1057.1L733.5 1056.6L734.8 1055.8L736 1056L737.2 1056.2L738.5 1057.3L739.8 1056.4L741 1056.6L742.2 1056.2L743.5 1057.1L744.8 1057.7L746 1058L747.2 1057.7L748.5 1058.3L749.8 1057.8L751 1059L752.2 1059.2L753.5 1059.3L754.8 1058.6L756 1058.2L757.2 1058.4L758.5 1059.6L759.8 1058.3L761 1059.4L762.2 1060.4L763.5 1059.8L764.8 1060.8L766 1060.2L767.2 1059.6L768.5 1060L769.8 1060.1L771 1060.9L772.3 1060.7L773.7 1062.7L775 1062.7L776.2 1062.2L777.5 1061.3L778.8 1062.1L780 1060.8L781.2 1061L782.5 1059.5L783.8 1059.7L785 1059.5L786.2 1059.6L787.5 1059.2L788.8 1059L790 1058L791.2 1057.6L792.5 1057.5L793.8 1057.6L795 1058.1L796.2 1058.4L797.5 1057.6L798.8 1059.4L800 1058.7L801.2 1058.9L802.5 1060.2L803.8 1061L805 1060.5L806.2 1060.3L807.5 1061.2L808.8 1061L810 1061.8L811.2 1061.6L812.4 1062.4L813.6 1061.6L814.8 1062.1L816 1062.5L817.2 1063L818.4 1063.2L819.6 1063L820.8 1063.7L822 1063.5L823.2 1063.4L824.4 1063.6L825.6 1064.5L826.8 1065.2L828 1064.8L829.2 1065.5L830.4 1065.9L831.6 1065.9L832.8 1065.1L834 1066.1L835.2 1066.3L836.4 1066.5L837.6 1067.3L838.8 1067.9L840 1067.7L841.2 1068.5L842.4 1068.6L843.6 1068.6L844.8 1069.3L846 1069.1L847.2 1069L848.4 1069L849.6 1069.6L850.8 1069.7L852 1068.5L853.2 1068.3L854.4 1069.8L855.6 1069.4L856.8 1069.7L858 1069.9L859.2 1069.5L860.4 1070.7L861.6 1071L862.8 1070.8L864 1071.5L865.2 1071.2L866.4 1070.5L867.6 1071.6L868.8 1070.3L870 1070.9L871.2 1071.3L872.4 1070.9L873.6 1071.3L874.8 1071.1L876 1071.8L877.2 1070.7L878.5 1071.2L879.8 1071.6L881 1071L882.2 1069.4L883.5 1068.2L884.7 1067.6L886 1068.4L887.2 1067.7L888.5 1069.2L889.7 1068.6L891 1067.8L892.2 1067.9L893.5 1068.1L894.7 1066.7L896 1066.8L897.2 1066.8L898.5 1066.3L899.7 1065.7L901 1063.9L902.4 1062.7L903.7 1061.7L905.2 1060L906.7 1059.3L908 1060.4L909.2 1060.8L910.5 1061.3L911.7 1061.6L912.9 1061.3L914.1 1062.5L915.3 1062.3L916.5 1063.8L917.7 1063.6L918.9 1063.1L920.1 1061.9L921.3 1063L922.5 1062.6L923.7 1061.7L924.9 1062.5L926.1 1062L927.3 1062.2L928.5 1062.7L929.7 1062.7L930.9 1062.8L932.1 1063.3L933.3 1064.4L934.5 1064L935.7 1064.2L936.9 1064.2L938.1 1065.2L939.3 1064.3L940.5 1066L941.7 1065.1L942.9 1066.3L944.1 1066.2L945.3 1067.9L946.5 1067.6L947.7 1068.5L949 1070.1L950.2 1069.9L951.5 1071.1L952.7 1071.2L954 1071.6L955.2 1070.9L956.5 1069.5L957.7 1069.7L958.9 1069L960.1 1069.5L961.3 1068.6L962.5 1068.5L963.7 1068.5L964.9 1067.7L966.1 1067.7L967.3 1067.4L968.5 1068.3L969.7 1068.1L970.9 1066.9L972.1 1066.2L973.3 1066.2L974.5 1066.5L975.7 1066L976.9 1066.1L978.1 1066L979.3 1067.3L980.5 1067.4L981.7 1068.4L983 1068.8L984.4 1069.2L985.7 1069.1L987 1070.8L988.4 1069.6L989.7 1070.6L991.1 1070.9L992.5 1069.8L993.9 1069.6L995.2 1070.6L996.6 1069.5L998 1069.7L999.2 1069.7L1000.4 1070.7L1001.6 1070.2L1002.8 1071.5L1004 1071.7L1005.2 1071L1006.4 1072.4L1007.6 1072.4L1008.8 1073.3L1010 1072.6L1011.2 1073.2L1012.4 1072.7L1013.6 1071.6L1014.8 1071.2L1016 1071.4L1017.2 1070.5L1018.4 1070.1L1019.6 1070L1020.8 1069.4L1022 1069.6L1023.2 1069.7L1024.4 1068.2L1025.6 1068L1026.8 1068.4L1028 1067.5L1029.2 1067.5L1030.4 1067.7L1031.6 1067.4L1032.8 1066.1L1034 1067.1L1035.2 1066.7L1036.4 1065.1L1037.6 1065.8L1038.8 1064.1L1040 1063.9L1041.2 1062.8L1042.4 1063.2L1043.6 1062.7L1044.8 1061.7L1046 1061.7L1047.2 1061L1048.4 1060.8L1049.6 1059.9L1050.8 1060.5L1052 1059.7L1053.2 1059.7L1054.4 1060.9L1055.6 1061L1056.8 1060.8L1058 1061.5L1059.2 1061.8L1060.4 1062.4L1061.6 1062.5L1062.8 1062.6L1064 1062.6L1065.2 1062.7L1066.4 1062.5L1067.6 1062.1L1068.8 1061.1L1070 1061.4L1071.2 1061.6L1072.4 1061.4L1073.6 1062L1074.8 1061.7L1076 1062.7L1077.2 1063.8L1078.4 1063.7L1079.6 1064.1L1080.8 1065.2L1082 1065.4L1083.2 1064.7L1084.4 1063.9L1085.6 1064.2L1086.8 1064.1L1088 1063.3L1089.2 1063.5L1090.4 1063L1091.6 1063.8L1092.8 1064.3L1094 1063.7L1095.2 1064.3L1096.4 1064.7L1097.6 1063.6L1098.8 1064.5L1100 1065.1L1101.2 1064.2L1102.4 1065L1103.6 1063.4L1104.8 1062.9L1106 1063.4L1107.2 1063L1108.4 1063.9L1109.6 1063.2L1110.8 1062.5L1112 1062.7L1113.2 1061.7L1114.4 1062.3L1115.6 1062.8L1116.8 1061.6L1118 1061.7L1119.2 1061.7L1120.4 1061.9L1121.6 1061.2L1122.8 1061.8L1124 1060.9L1125.2 1061.1L1126.4 1061L1127.6 1061.9L1128.8 1062L1130 1062.1L1131.2 1062.7L1132.4 1063.1L1133.6 1062.9L1134.8 1063.3L1136 1064.3L1137.2 1063.8L1138.4 1063.4L1139.6 1063.8L1140.8 1062.3L1142 1062.4L1143.2 1063.2L1144.4 1063.7L1145.6 1063L1146.8 1063.6L1148 1065L1149.2 1065.7L1150.4 1066.2L1151.6 1066.3L1152.8 1066L1154 1067.1L1155.2 1067L1156.5 1067.5L1157.8 1067.5L1159 1067.8L1160.3 1067.9L1161.7 1068.9L1163 1069.2L1164.2 1068.7L1165.5 1067.2L1166.8 1067.5L1168 1065.5L1169.2 1064.5L1170.5 1063.2L1171.8 1062.5L1173 1062.1L1174.2 1061.1L1175.5 1060.7L1176.8 1060.1L1178 1059.1L1179.2 1058.6L1180.4 1058.5L1181.6 1058.5L1182.8 1058L1184 1057.6L1185.2 1056.6L1186.4 1056.9L1187.6 1055.9L1188.8 1054.6L1190 1054.7L1191.2 1054.9L1192.4 1054.6L1193.6 1055.6L1194.8 1054.5L1196 1055.5L1197.2 1055.9L1198.4 1055.1L1199.6 1054.3L1200.8 1054.2L1202 1054.4L1203.2 1054.1L1204.5 1054.4L1205.8 1053.8L1207 1053.6L1208.2 1053.6L1209.5 1054L1210.8 1054.1L1212 1054.2L1213.2 1053.8L1214.4 1054.1L1215.6 1055.2L1216.8 1054.9L1218 1054.7L1219.2 1055.1L1220.5 1055.6L1221.8 1056L1223 1056.1L1224.2 1055.2L1225.5 1055.2L1226.8 1055.5L1228 1056.1L1229.2 1055.1L1230.5 1054.1L1231.8 1053.3L1233 1052.5L1234.2 1050.9L1235.5 1049.8L1236.8 1048.6L1238 1047.6L1239.2 1046.8L1240.5 1046.3L1241.8 1044.3L1243 1043.3L1244.2 1042.4L1245.4 1042.9L1246.6 1041.2L1247.8 1041.1L1249 1040.7L1250.2 1040.1L1251.4 1041.3L1252.6 1040L1253.8 1041.1L1255 1040.2L1256.2 1040.4L1257.4 1039.9L1258.6 1039.5L1259.8 1038.8L1261 1038.5L1262.2 1038L1263.5 1039.2L1264.8 1039.1L1266 1038.2L1267.2 1038.2L1268.4 1038L1269.6 1038.5L1270.8 1039.1L1272 1039.5L1273.2 1039.4L1274.4 1040.6L1275.6 1041.2L1276.8 1039.8L1278 1040.5L1279.2 1041.1L1280.5 1041.5L1281.8 1041.6L1283 1041.3L1284.2 1042.8L1285.5 1042.3L1286.8 1043.1L1288 1044.2L1289.3 1045.3L1290.7 1046.7L1292 1047.7L1293.3 1048.9L1294.7 1049.3L1296 1050.6L1297.2 1049.4L1298.5 1048.9L1299.8 1048.5L1301 1047.3L1302.2 1048.2L1303.4 1048.9L1304.6 1049L1305.8 1049L1307 1049.9L1308.2 1049.5L1309.4 1048.9L1310.6 1048.8L1311.8 1048.2L1313 1047L1314.2 1046.8L1315.4 1046.4L1316.6 1046.3L1317.8 1046.3L1319 1046.4L1320.2 1047.3L1321.4 1046.6L1322.6 1047.6L1323.8 1048.9L1325 1049.1L1326.2 1048.2L1327.5 1046.4L1328.8 1046L1330 1044.6L1331.2 1043.5L1332.5 1042.8L1333.8 1041.2L1335 1039.6L1336.5 1038.2L1338 1037.2L1339 1037.9L1340 1038.9L1341.5 1038.8L1343 1039.8L1344.5 1041.7L1346 1041.4L1347.5 1041.9L1349 1042.8L1350.5 1042.3L1352 1042.7L1353.5 1042.2L1355 1043.4L1356.5 1043.6L1358 1044.4L1359.5 1045L1361 1046.7L1362.5 1047.5L1364 1047L1365.5 1046.9L1367 1047.6L1368.5 1048.5L1370 1050.6L1371.5 1052.3L1373 1052.3L1374.5 1054.9L1376 1055.4L1377.2 1055.4L1378.5 1056.5L1379.7 1056.1L1381 1055.9L1382.2 1055.3L1383.5 1055.9L1385 1055.9L1386.5 1054.2L1388 1053.5L1389.5 1052.8L1391 1052.2L1392.5 1052.6L1394 1051.3L1395.4 1050.7L1396.9 1050.1L1398.4 1050.4L1399.9 1050.1L1401.4 1050.8L1402.9 1051.7L1404.4 1051L1405.9 1051.3L1407.4 1051.7L1408.9 1052.8L1410.4 1052.8L1411.9 1053.3L1413.4 1053L1414.9 1053.8L1416.4 1053.4L1417.9 1051.4L1419.4 1050.8L1420.9 1050.8L1422.4 1049.1L1423.9 1048.4L1425.4 1048.5L1426.9 1048.3L1428.4 1047.5L1429.9 1047.4L1431.4 1048.9L1432.9 1049.3L1434.4 1050.6L1435.9 1052.2L1437.4 1053.1L1438.7 1054.6L1439.9 1054.7L1441.2 1055.6L1442.4 1055.8L1443.7 1053.9L1444.9 1053.4L1446.4 1052.5L1447.9 1051.9L1449.4 1051.9L1450.9 1052.1L1452.4 1051.9L1453.9 1050.5L1455.4 1050.6L1456.9 1050.6L1458.4 1051.4L1459.9 1053L1461.4 1054.4L1462.9 1055L1464.4 1055.6L1465.9 1056.8L1467.4 1057.3L1468.9 1057.4L1470.4 1057.6L1471.9 1058.7L1473.4 1060.6L1474.9 1062L1476.4 1062.7L1477.9 1063.7L1479.4 1063.9L1480.9 1064.7L1482.4 1065.2L1483.9 1064.4L1485.4 1064.8L1486.9 1066.1L1488.4 1066.3L1489.9 1066.9L1491.4 1067.7L1492.9 1067.7L1494.4 1068.4L1495.9 1068.5L1497.4 1068.1L1498.9 1067.3L1500.4 1067.6L1501.9 1067L1503.4 1066.6L1504.9 1066.5L1506.3 1067.7L1507.8 1067.6L1509.2 1068.5L1510.6 1069.7L1512 1070.4L1513.4 1069L1514.7 1067.8L1516.1 1067.1L1517.3 1066.3L1518.6 1065.2L1519.8 1063.2L1521.1 1062.3L1522.3 1062.1L1523.6 1060.7L1524.8 1060.5L1526.1 1060.4L1527.3 1059.2L1528.8 1059.6L1530.3 1059L1531.8 1058.8L1533.3 1058.7L1534.8 1058.6L1536.3 1057.7L1537.8 1058L1539.3 1058L1540.8 1057.1L1542.3 1056.5L1543.8 1055.1L1545.3 1055.2L1546.8 1054.2L1548.3 1052.7L1549.8 1051.5L1551.3 1049.7L1552.8 1049.1L1554.3 1048.7L1555.8 1049.3L1557.3 1049.4L1558.8 1049.6L1560.3 1049.9L1561.8 1051.2L1563.3 1051.4L1564.8 1051.1L1566.3 1049.7L1567.8 1048.5L1569.3 1047L1570.8 1046.6L1572.3 1045.6L1573.8 1045.1L1575.3 1045.6L1576.8 1044.8L1578.3 1044.5L1579.8 1045L1581.3 1045.8L1582.8 1047L1584.3 1047.5L1585.8 1047L1587.3 1048.2L1588.8 1047.7L1590.3 1049.2L1591.8 1049.2L1593.3 1050.5L1594.8 1051.6L1596.3 1052.7L1597.8 1053.7L1599.3 1053.8L1600.8 1053.1L1602.3 1053.6L1603.8 1052.9L1605.3 1053.3L1606.8 1053.3L1608.3 1052.8L1609.8 1053.6L1611.2 1054L1612.7 1055.2L1614.2 1056.6L1615.7 1058L1617.2 1059.5L1618.7 1059.2L1620.2 1060.4L1621.7 1060L1623.2 1059.1L1624.7 1058.6L1626.2 1057.3L1627.7 1058L1629.2 1056.6L1630.7 1055.9L1632.2 1055.8L1633.7 1054.4L1635 1053.5L1636.2 1053.9L1637.5 1053L1638.7 1053.6L1640 1053.2L1641.2 1052.4L1642.5 1051.7L1643.8 1052.2L1645 1051.5L1646.2 1052L1647.5 1050.9L1648.8 1050.9L1650 1052L1651.2 1050.8L1652.5 1050.1L1653.8 1050.2L1655 1048.5L1656.2 1049.4L1657.5 1048.1L1658.8 1048.9L1660 1048.3L1661.2 1048.3L1662.5 1047.1L1663.8 1048.3L1665 1047.3L1666.2 1047.5L1667.5 1048.3L1668.7 1047.9L1670 1046.9L1671.2 1046.9L1672.5 1045.6L1673.7 1045.5L1675 1044.9L1676.2 1044.8L1677.5 1043.5L1678.7 1043.7L1679.9 1043.7L1681.2 1045.7L1682.4 1045.4L1683.7 1045.9L1684.9 1044.6L1686.2 1044.6L1687.4 1044.7L1688.7 1044.8L1689.9 1045.9L1691.2 1045.2L1692.4 1043.8L1693.7 1042.5L1694.9 1042.4L1696.2 1042.3L1697.4 1041.6L1698.7 1041.1L1699.9 1040.9L1701.2 1041.2L1702.4 1042.4L1703.6 1042.9L1704.9 1041.6L1706.1 1041.6L1707.4 1043L1708.6 1044L1709.9 1044.1L1711.1 1045.3L1712.4 1045.2L1713.6 1045.1L1714.9 1044.4L1716.1 1044.8L1717.4 1045.2L1718.6 1045.4L1719.9 1046.4L1721.1 1047.5L1722.4 1046.2L1723.6 1046.7L1724.9 1045.6L1726.3 1045.8L1727.8 1044.9L1729.2 1044L1730.7 1044.7L1732.1 1045.6L1733.6 1045.7L1734.9 1046.5L1736.1 1046.9L1737.4 1048.3L1738.6 1047.8L1739.9 1047L1741.1 1045.7L1742.3 1046L1743.6 1045.2L1744.8 1045.3L1746.1 1045L1747.3 1043.5L1748.6 1042.9L1749.8 1043.4L1751.1 1042.3L1752.3 1041.5L1753.6 1041.8L1754.8 1041.9L1756.1 1041.5L1757.3 1041.7L1758.6 1040.8L1759.8 1041.1L1761.1 1040.8L1762.3 1039.7L1763.6 1039.2L1764.8 1040.1L1766.1 1039.4L1767.3 1038.9L1768.6 1038.9L1769.8 1038.8L1771 1036.6L1772.3 1035.9L1773.5 1033.7L1774.8 1032.1L1776.1 1030.2L1777.3 1029.9L1778.6 1029.3L1779.8 1028.2L1781.1 1028L1782.3 1027.7L1783.6 1027.8L1784.8 1026.7L1786.1 1025.3L1787.3 1025.4L1788.6 1023.5L1789.8 1022.4L1791.1 1022.7L1792.3 1021.6L1793.6 1020.2L1794.8 1019.4L1796.1 1018.2L1797.3 1017.7L1798.6 1016.1L1799.8 1015.8L1801.1 1015.6L1802.3 1015.9L1803.8 1014L1805.2 1013.8L1806.7 1013.2"/>
<path class="c" stroke="#0010ff" d="M233.0 1061.6 V1085.0 M222.0 1061.6 h22 M222.0 1085.0 h22M307.9 1069.0 V1091.6 M296.9 1069.0 h22 M296.9 1091.6 h22M375.4 1070.6 V1096.6 M364.4 1070.6 h22 M364.4 1096.6 h22M440.2 1075.4 V1096.0 M429.2 1075.4 h22 M429.2 1096.0 h22M501.7 1055.0 V1080.4 M490.7 1055.0 h22 M490.7 1080.4 h22M563.0 1056.6 V1080.4 M552.0 1056.6 h22 M552.0 1080.4 h22M626.0 1052.5 V1073.8 M615.0 1052.5 h22 M615.0 1073.8 h22M684.5 1064.0 V1085.8 M673.5 1064.0 h22 M673.5 1085.8 h22M748.0 1044.9 V1071.0 M737.0 1044.9 h22 M737.0 1071.0 h22M809.8 1050.0 V1072.5 M798.8 1050.0 h22 M798.8 1072.5 h22M867.1 1060.9 V1082.1 M856.1 1060.9 h22 M856.1 1082.1 h22M929.0 1049.7 V1075.0 M918.0 1049.7 h22 M918.0 1075.0 h22M989.0 1057.8 V1081.4 M978.0 1057.8 h22 M978.0 1081.4 h22M1049.9 1049.4 V1073.4 M1038.9 1049.4 h22 M1038.9 1073.4 h22M1109.1 1050.4 V1074.2 M1098.1 1050.4 h22 M1098.1 1074.2 h22M1167.8 1054.2 V1077.4 M1156.8 1054.2 h22 M1156.8 1077.4 h22M1227.3 1043.4 V1068.8 M1216.3 1043.4 h22 M1216.3 1068.8 h22M1291.7 1036.2 V1060.8 M1280.7 1036.2 h22 M1280.7 1060.8 h22M1352.0 1031.9 V1054.1 M1341.0 1031.9 h22 M1341.0 1054.1 h22M1413.0 1041.2 V1066.1 M1402.0 1041.2 h22 M1402.0 1066.1 h22M1474.9 1047.2 V1075.3 M1463.9 1047.2 h22 M1463.9 1075.3 h22M1531.8 1045.1 V1069.8 M1520.8 1045.1 h22 M1520.8 1069.8 h22M1593.6 1037.2 V1061.1 M1582.6 1037.2 h22 M1582.6 1061.1 h22M1653.9 1040.3 V1061.8 M1642.9 1040.3 h22 M1642.9 1061.8 h22M1716.4 1032.4 V1058.3 M1705.4 1032.4 h22 M1705.4 1058.3 h22M1776.7 1019.7 V1041.4 M1765.7 1019.7 h22 M1765.7 1041.4 h22"/>
<path class="c" stroke="#00f0ff" d="M233 977.9L234.3 976.1L235.7 974.2L237 972.8L238.2 971.6L239.5 971.4L240.8 969.7L242 968.9L243.2 968.7L244.4 968L245.6 968.1L246.8 966.9L248 966.4L249.2 966.1L250.5 965L251.8 965.5L253 964.3L254.2 963.2L255.5 962.7L256.8 960.9L258 960.5L259.2 960L260.5 958.5L261.8 958.5L263 957L264.2 957L265.4 956.2L266.6 955.7L267.8 955.1L269 954.7L270.3 955.6L271.7 957.7L273 958L274.2 959.2L275.5 961.1L276.8 961.9L278 963.3L279.2 964.2L280.5 965.3L281.8 967.6L283 968.2L284.2 970.3L285.5 971.5L286.8 973.6L288 974.6L289.2 975.8L290.5 976.1L291.8 977.2L293 979L294.2 980.3L295.5 980.1L296.8 981.4L298 982.2L299.2 982.5L300.4 982.5L301.6 983.4L302.8 984L304 984.2L305.2 985.2L306.5 984.6L307.8 985.2L309 985.9L310.2 986.4L311.5 987.4L312.8 987.3L314 988.1L315.2 988.7L316.4 987.6L317.6 988.7L318.8 988.5L320 988.5L321.2 988.7L322.5 988.6L323.8 988.3L325 988.8L326.2 988.3L327.5 988L328.8 987.8L330 987.8L331.3 987.8L332.7 987.7L334 987.2L335.3 987.5L336.7 986.5L338 987.2L339.3 988.2L340.7 989.7L342 991.9L343.2 993.6L344.5 994.4L345.8 996.1L347 997.9L348.2 999.7L349.5 1000.4L350.8 1001.6L352 1002.9L353.2 1003.6L354.4 1005.9L355.6 1007.2L356.8 1008.1L358 1008.9L359.2 1010.1L360.5 1011L361.8 1012.7L363 1013.7L364.2 1014.2L365.5 1015.8L366.8 1016.5L368 1016.8L369.2 1018.2L370.5 1018.7L371.8 1018.9L373 1019.9L374.2 1021.4L375.5 1021.4L376.8 1022.9L378 1024.3L379.3 1024.3L380.7 1025.3L382 1026.2L383.2 1027L384.5 1027.4L385.8 1027.5L387 1028.2L388.2 1027.2L389.5 1027.5L390.8 1026.4L392 1026.1L393.2 1026L394.4 1025.3L395.6 1025.6L396.8 1025.3L398 1025.3L399.2 1025.5L400.4 1025.5L401.6 1025.7L402.8 1026.7L404 1026.3L405.2 1026.8L406.4 1026.9L407.6 1027.4L408.8 1026.5L410 1027.1L411.2 1027.3L412.5 1028.7L413.8 1029.5L415 1030.1L416.2 1031.4L417.5 1031.4L418.8 1033.2L420 1033.5L421.2 1034.1L422.4 1034.4L423.6 1035.7L424.8 1035.6L426 1036.9L427.2 1037.4L428.4 1037.7L429.6 1037.1L430.8 1038.2L432 1038L433.2 1038L434.4 1039.1L435.6 1039.5L436.8 1039.6L438 1040L439.2 1040.9L440.5 1041.7L441.8 1042.6L443 1043.2L444.3 1042.8L445.7 1042.7L447 1043.4L448.2 1042.5L449.5 1042.1L450.8 1041.8L452 1040.4L453.2 1039.7L454.4 1039.5L455.6 1039.6L456.8 1038.6L458 1037.9L459.2 1037.8L460.4 1037.5L461.6 1036.6L462.8 1035.5L464 1034.8L465.2 1033.9L466.5 1032.5L467.8 1031.5L469 1031L470.5 1030.5L472 1029.1L473.2 1029.1L474.5 1030.1L475.8 1029.3L477 1029.9L478.2 1030.2L479.5 1031.1L480.8 1032L482 1031.9L483.2 1032.7L484.4 1033L485.6 1032.6L486.8 1033.4L488 1033.2L489.2 1033.2L490.4 1033.1L491.6 1033.2L492.8 1033.8L494 1034.4L495.2 1034.4L496.4 1035.6L497.6 1036.6L498.8 1037.1L500 1038.1L501.2 1038.2L502.4 1038.2L503.6 1038.4L504.8 1038.4L506 1038.4L507.2 1038.1L508.5 1038.8L509.8 1038.2L511 1038.7L512.2 1039.8L513.5 1040.6L514.8 1042.4L516 1042.8L517.2 1043.4L518.4 1044.3L519.6 1044.4L520.8 1045.5L522 1045.4L523.2 1044.6L524.4 1044.2L525.6 1043.9L526.8 1043.6L528 1042.8L529.2 1042.8L530.4 1042.7L531.6 1042.4L532.8 1042.3L534 1041.4L535.2 1041.4L536.4 1041.1L537.6 1040.9L538.8 1039.5L540 1039.4L541.2 1040.2L542.4 1040.4L543.6 1040L544.8 1041.2L546 1041.1L547.2 1041.7L548.4 1042.4L549.6 1042.7L550.8 1042.9L552 1043.3L553.2 1043.5L554.4 1043.9L555.6 1043.4L556.8 1043.5L558 1043.8L559.2 1044.2L560.4 1045.1L561.6 1044.9L562.8 1044.1L564 1044.9L565.2 1045.5L566.4 1045L567.6 1046.3L568.8 1045.7L570 1046.4L571.2 1047.1L572.4 1047.6L573.6 1046.8L574.8 1048.1L576 1048.2L577.2 1049.1L578.4 1049.6L579.6 1049.6L580.8 1050.1L582 1050.7L583.2 1051.4L584.5 1051.7L585.8 1052L587 1053.2L588.2 1053L589.5 1052.4L590.8 1051.2L592 1050.8L593.2 1050.5L594.5 1049.7L595.8 1049.7L597 1049.7L598.5 1048.5L600 1047.9L601 1047.2L602 1047L603.2 1045.9L604.4 1046.7L605.6 1046.1L606.8 1045.7L608 1045.5L609.2 1044.5L610.4 1045.4L611.6 1044.4L612.8 1044.3L614 1044.2L615.2 1045L616.4 1044.3L617.6 1045L618.8 1045.8L620 1045.2L621.2 1045.8L622.4 1045.2L623.6 1046L624.8 1045.9L626 1046.2L627.2 1045.4L628.5 1045.6L629.8 1046.5L631 1045.6L632.2 1046.5L633.5 1048.5L634.8 1048.5L636 1049.8L637.2 1050.5L638.4 1050.7L639.6 1052.4L640.8 1053L642 1054L643.2 1055.1L644.4 1054.4L645.6 1055.7L646.8 1056L648 1056.6L649.2 1057.8L650.4 1057L651.6 1058L652.8 1058L654 1058.8L655.2 1058.8L656.4 1060.1L657.6 1059.9L658.8 1060L660 1061L661.2 1060.6L662.4 1061.7L663.6 1061.3L664.8 1062.4L666 1062.1L667.2 1062.7L668.4 1062.9L669.6 1062.9L670.8 1063.7L672 1063.4L673.2 1063.1L674.4 1063.6L675.6 1063.9L676.8 1063.6L678 1063.8L679.2 1063.3L680.4 1063.6L681.6 1064.4L682.8 1063.9L684 1064L685.2 1064.5L686.4 1063.4L687.6 1063.3L688.8 1063.3L690 1063.6L691.2 1063L692.4 1063.1L693.6 1062.9L694.8 1063.6L696 1062.7L697.2 1062.6L698.4 1062L699.6 1062.3L700.8 1061.1L702 1061.3L703.2 1060.6L704.4 1060.5L705.6 1060.1L706.8 1060.1L708 1060L709.2 1059.1L710.4 1059.3L711.6 1059.7L712.8 1059.9L714 1059.3L715.2 1059.2L716.4 1059.1L717.6 1059.2L718.8 1059.5L720 1059.6L721.2 1058.6L722.4 1058.7L723.6 1058.7L724.8 1059.1L726 1058.9L727.2 1058.1L728.4 1057.9L729.6 1057.9L730.8 1058.2L732 1058.3L733.2 1058.8L734.4 1057.9L735.6 1057.9L736.8 1058.4L738 1057.9L739.2 1058.4L740.4 1057.5L741.6 1058.1L742.8 1058.2L744 1057.7L745.2 1057.2L746.4 1058L747.6 1056.8L748.8 1056.8L750 1056.6L751.2 1057.1L752.4 1056.6L753.6 1055.8L754.8 1055.9L756 1055.8L757.2 1054.8L758.4 1055.5L759.6 1054.2L760.8 1054.4L762 1054.3L763.2 1053.9L764.4 1054.6L765.6 1054.8L766.8 1054.5L768 1054.2L769.2 1055L770.4 1054.4L771.6 1055.6L772.8 1055.3L774 1055.4L775.2 1055.7L776.4 1054.4L777.6 1054.4L778.8 1054.8L780 1054L781.2 1054.6L782.4 1053.8L783.6 1053.7L784.8 1054.3L786 1053.2L787.2 1052.8L788.4 1053.6L789.6 1053.8L790.8 1054.2L792 1053.6L793.2 1054.5L794.4 1054.4L795.6 1054.5L796.8 1053.9L798 1055L799.2 1054.8L800.4 1055.8L801.6 1056.7L802.8 1055.7L804 1056.8L805.2 1057.8L806.4 1057.3L807.6 1058.5L808.8 1058.8L810 1058.9L811.2 1059.3L812.4 1058.7L813.6 1057.6L814.8 1058.5L816 1057.9L817.2 1057.2L818.4 1056.4L819.6 1056.3L820.8 1056.2L822 1055.7L823.2 1056.3L824.4 1054.9L825.6 1054.9L826.8 1054.5L828 1054.9L829.2 1054.9L830.4 1053.7L831.6 1053.4L832.8 1053.7L834 1052.9L835.2 1052L836.4 1052.7L837.6 1052L838.8 1050.9L840 1050.8L841.2 1050.4L842.4 1050.2L843.6 1049.5L844.8 1048.7L846 1048.7L847.2 1048.1L848.4 1048.4L849.6 1048.4L850.8 1048.1L852 1047.6L853.2 1048L854.4 1048.4L855.6 1048.1L856.8 1047.9L858 1048.4L859.2 1048.3L860.4 1049.1L861.6 1048.2L862.8 1048.6L864 1049.4L865.2 1049L866.4 1049.3L867.6 1050.5L868.8 1050.4L870 1050.1L871.2 1050L872.4 1051.2L873.6 1051.5L874.8 1051L876 1051.8L877.2 1052.2L878.5 1051.7L879.8 1052L881 1052.5L882.2 1052.9L883.5 1051.8L884.8 1051.5L886 1051.1L887.3 1051.4L888.7 1050.7L890 1050.8L891.3 1049.6L892.7 1048.6L894 1047.5L895.2 1046.6L896.5 1046.4L897.8 1045.4L899 1044L900.2 1043.3L901.5 1042.2L902.8 1041L904 1039.9L905.2 1039.5L906.5 1039.2L907.8 1038.1L909 1037.4L910.2 1037.6L911.5 1037.6L912.8 1037L914 1036.5L915.2 1036.3L916.5 1035.3L917.8 1034.3L919 1033.9L920.2 1033.7L921.5 1033.8L922.8 1032.8L924 1032.4L925.2 1031.3L926.4 1031L927.6 1031.4L928.8 1030.5L930 1029.9L931.2 1029.5L932.5 1030L933.8 1029.6L935 1029.6L936.2 1029.7L937.5 1030.1L938.8 1030.4L940 1031.3L941.2 1031.8L942.5 1031.2L943.8 1030.8L945 1030.9L946.2 1031.7L947.5 1031.2L948.8 1032.4L950 1032.5L951.2 1030.9L952.5 1029.4L953.8 1029.2L955 1028L956.2 1026.6L957.5 1025.5L958.8 1024.4L960 1023.6L961.2 1023L962.5 1021.5L963.8 1021.4L965 1019.7L966.2 1018.3L967.5 1018L968.8 1017.5L970 1015.6L971.2 1015.7L972.5 1014.5L973.8 1013.9L975 1013L976.2 1012.5L977.5 1012.1L978.8 1011.2L980 1011.4L981.2 1011.6L982.5 1011.3L983.8 1011.6L985 1011.7L986.2 1012.2L987.5 1011.4L988.8 1012.1L990 1011.2L991 1010.6L992 1009.4L993.2 1009.4L994.4 1010.4L995.6 1010.9L996.8 1010L998 1011L999.2 1011L1000.4 1012.2L1001.6 1013.8L1002.8 1014.7L1004 1015L1005.2 1015.4L1006.4 1016.7L1007.6 1017.9L1008.8 1017.4L1010 1019L1011.2 1019.3L1012.4 1019.8L1013.6 1019.3L1014.8 1019.8L1016 1019.9L1017.2 1019.5L1018.5 1019.6L1019.8 1018.7L1021 1018.5L1022.2 1017.6L1023.5 1017.8L1024.8 1016.2L1026 1015.6L1027.2 1015.4L1028.4 1014.7L1029.6 1013.5L1030.8 1012.5L1032 1012.3L1033.2 1012.1L1034.4 1011.6L1035.6 1010.1L1036.8 1009.7L1038 1009.5L1039.2 1009.2L1040.4 1009.3L1041.6 1009L1042.8 1009.4L1044 1008.9L1045.2 1008.1L1046.4 1007.8L1047.6 1008.1L1048.8 1007.5L1050 1006.5L1051.2 1007L1052.4 1008.1L1053.6 1008.1L1054.8 1008L1056 1008.8L1057.2 1009.2L1058.4 1008.6L1059.6 1008.8L1060.8 1009.8L1062 1009.3L1063.2 1009.2L1064.4 1009.8L1065.6 1009.7L1066.8 1008.6L1068 1008.5L1069.2 1008.6L1070.5 1010L1071.8 1009.8L1073 1009.6L1074.2 1011L1075.5 1011.5L1076.8 1011.9L1078 1011.9L1079.2 1012.6L1080.5 1012.6L1081.8 1013.1L1083 1013.7L1084.2 1013.6L1085.4 1014.2L1086.6 1013.4L1087.8 1013L1089 1013.2L1090.2 1013.2L1091.4 1012.8L1092.6 1013.5L1093.8 1013.1L1095 1012.9L1096.2 1012.1L1097.4 1012.5L1098.6 1012.5L1099.8 1011.4L1101 1011.7L1102.2 1011.4L1103.4 1010.1L1104.6 1010.6L1105.8 1009L1107 1008.6L1108.2 1008.3L1109.5 1008L1110.8 1006.9L1112 1005.8L1113.2 1004.8L1114.5 1003.9L1115.8 1002.9L1117 1002.6L1118.2 1002.2L1119.5 1000.9L1120.8 1001.2L1122 999.6L1123.2 999L1124.4 998.9L1125.6 999.2L1126.8 998L1128 997.6L1129.2 997.6L1130.5 996.2L1131.8 996.3L1133 995.6L1134.2 995.6L1135.5 993.9L1136.8 993.1L1138 992.5L1139.3 991.7L1140.7 991.4L1142.1 989.9L1143.4 989.4L1144.6 989.9L1145.7 990.4L1146.8 992.1L1148 992.3L1149.2 992.4L1150.5 993.6L1151.8 994.4L1153 994.6L1154.2 995.4L1155.5 996L1156.8 996.3L1158 997.5L1159.2 997.9L1160.5 998.5L1161.8 999L1163 999.5L1164.2 999.6L1165.5 999.1L1166.8 999.6L1168 999L1169.2 998.5L1170.5 997.8L1171.8 998L1173 997.7L1174.2 997.8L1175.5 996.5L1176.8 995.7L1178 995.6L1179.2 995.6L1180.5 993.8L1181.8 994.1L1183 992.8L1184.2 991.9L1185.5 991.2L1186.8 990.3L1188 988.6L1189.2 987.9L1190.5 986.4L1191.8 986.4L1193 985L1194.2 984L1195.5 983.6L1196.8 984L1198 983.1L1199.2 982.8L1200.5 981.5L1201.8 981.4L1203 981.5L1204.2 980.7L1205.5 980.8L1206.8 979.8L1208 980.2L1209.2 980.3L1210.5 981L1211.8 980.4L1213 981L1214.2 981.1L1215.5 981.4L1216.8 982.7L1218 983.2L1219.2 984.5L1220.5 984.9L1221.8 985.5L1223 985.2L1224.2 986.8L1225.5 987.7L1226.8 987.6L1228 989L1229.2 989.1L1230.5 989.4L1231.8 990.5L1233 990.7L1234.2 990.8L1235.4 991.6L1236.6 991.8L1237.8 991.2L1239 991.9L1240.2 992.3L1241.4 991.6L1242.6 991.7L1243.8 992.8L1245 992.5L1246.2 992.7L1247.4 993.3L1248.6 993.2L1249.8 993.8L1251 993.1L1252.2 993.5L1253.4 993.8L1254.6 994L1255.8 994.2L1257 994.7L1258.2 995.3L1259.4 995.7L1260.6 995.8L1261.8 995.1L1263 995.5L1264.2 995.6L1265.4 996.3L1266.6 997.7L1267.8 997.7L1269 998L1270.2 998.7L1271.4 999.6L1272.6 1000L1273.8 999.7L1275 1000.7L1276.2 1001.2L1277.5 1001.7L1278.8 1002.4L1280 1003.6L1281.2 1004.3L1282.5 1005.5L1283.8 1005.8L1285 1007L1286.2 1007.4L1287.5 1009.1L1288.8 1010.1L1290 1011.7L1291.2 1013.1L1292.5 1013.4L1293.8 1015.3L1295 1015.8L1296.2 1016.7L1297.5 1015.9L1298.8 1016.4L1300 1017.1L1301.2 1018.9L1302.5 1019.1L1303.8 1019.3L1305 1020.7L1306.2 1021.3L1307.5 1022L1308.8 1022.8L1310 1023.7L1311.2 1023.7L1312.5 1024.2L1313.8 1024L1315 1024.9L1316.2 1025.6L1317.5 1025L1318.8 1026L1320 1026.3L1321.2 1026.4L1322.5 1027L1323.8 1027.2L1325 1028.3L1326.2 1028.5L1327.5 1027.9L1328.8 1026.8L1330 1026.8L1331.2 1026.3L1332.5 1025.5L1333.8 1025.9L1335 1025L1336.2 1024.5L1337.5 1024.1L1338.8 1024.6L1340 1024.1L1341.5 1025.2L1343 1026.3L1344.5 1026.9L1346 1027.9L1347.5 1027.9L1349 1029.2L1350.5 1030.4L1352 1030.5L1353.5 1032.2L1355 1032.2L1356.5 1033.6L1358 1033.4L1359.5 1033.8L1361 1034.3L1362.5 1035.4L1364 1035.5L1365.5 1036L1367 1037.2L1368.5 1039L1370 1040L1371.5 1041.1L1373 1042.3L1374.5 1042.4L1376 1043.8L1377.5 1043.5L1379 1043.9L1380.5 1044.4L1382 1044.2L1383.5 1044.5L1385 1043.5L1386.5 1043.4L1388 1042.8L1389.5 1042L1391 1041.1L1392.5 1040.9L1394 1040.7L1395.5 1040.4L1396.9 1039.6L1398.4 1039.5L1399.9 1039.7L1401.4 1039.1L1402.9 1039.9L1404.4 1039.7L1405.9 1039.6L1407.4 1039.8L1408.9 1039.9L1410.4 1039.3L1411.9 1039.8L1413.4 1038.9L1414.9 1038.5L1416.4 1038.6L1417.9 1037.5L1419.4 1038.2L1420.9 1037.3L1422.4 1036.7L1423.9 1037.1L1425.4 1037.8L1426.9 1039L1428.4 1039.7L1429.9 1040.7L1431.4 1041.6L1432.9 1043L1434.4 1044L1435.9 1045L1437.4 1046L1438.9 1046.1L1440.4 1046.1L1441.9 1047.5L1443.4 1047.9L1444.9 1047.4L1446.4 1047.7L1447.9 1047L1449.4 1047.2L1450.9 1047.1L1452.4 1046.7L1453.9 1046.4L1455.4 1046.8L1456.9 1047.8L1458.4 1048.5L1459.9 1048.5L1461.4 1049.5L1462.9 1050.7L1464.4 1050.3L1465.9 1051.4L1467.4 1052.2L1468.9 1051.9L1470.4 1052.3L1471.9 1052.8L1473.4 1053.5L1474.9 1053.8L1476.4 1054L1477.9 1053.5L1479.4 1054.2L1480.9 1054.6L1482.4 1054.5L1483.9 1054.9L1485.4 1055L1486.9 1056.2L1488.4 1056.1L1489.9 1057L1491.4 1057.4L1492.9 1057L1494.4 1057.4L1495.9 1056.9L1497.4 1057.3L1498.9 1056.9L1500.4 1057.2L1501.9 1056.9L1503.4 1057.6L1504.8 1057.6L1506.3 1057.2L1507.5 1057.2L1508.7 1057.3L1509.9 1058.4L1511.1 1058.5L1512.3 1057.9L1513.8 1058L1515.3 1058L1516.8 1057.4L1518.3 1056.8L1519.8 1057.4L1521.3 1056.3L1522.8 1056.7L1524.3 1056L1525.8 1055.2L1527.3 1054.4L1528.8 1053.9L1530.3 1054L1531.8 1054.1L1533.3 1054.2L1534.8 1053.9L1536.3 1053.8L1537.8 1053.3L1539.3 1053.3L1540.8 1052.9L1542.3 1052.1L1543.8 1051.5L1545.3 1050L1546.8 1049.1L1548.3 1047.8L1549.8 1046.7L1551.3 1046.3L1552.8 1045.4L1554.3 1045.1L1555.8 1044.2L1557.3 1044.4L1558.8 1045.1L1560.3 1045.5L1561.8 1045.6L1563.3 1045.4L1564.8 1044.9L1566.3 1045.5L1567.8 1044.8L1569.3 1043.3L1570.8 1042.9L1572.3 1042.2L1573.8 1041.8L1575.3 1041.6L1576.8 1041.9L1578.3 1041.4L1579.8 1041.4L1581.3 1041.1L1582.8 1041.3L1584.3 1041.7L1585.8 1042.6L1587.3 1043.2L1588.8 1043.2L1590.3 1043.1L1591.8 1044.2L1593.3 1044.4L1594.8 1044.4L1596.3 1045L1597.8 1045.5L1599.3 1044.9L1600.8 1045.1L1602.3 1045L1603.8 1044.1L1605.3 1044.8L1606.8 1044.1L1608.3 1044L1609.8 1042.9L1611.3 1043.3L1612.8 1044L1614.3 1043L1615.8 1043.8L1617.3 1043.7L1618.7 1043.7L1620.2 1044.2L1621.7 1044.2L1623.2 1043.6L1624.7 1043.3L1626.2 1042.6L1627.7 1042.2L1629.2 1041.2L1630.7 1040.9L1632.2 1039.5L1633.7 1039.4L1635 1038.8L1636.2 1038.6L1637.5 1038.3L1638.7 1037.6L1640 1037.9L1641.3 1037.1L1642.7 1037.1L1644 1036.7L1645.3 1036.2L1646.7 1036.3L1648 1035.4L1649.3 1035.4L1650.7 1035.5L1652 1034.5L1653.3 1034.8L1654.7 1033.9L1656 1033.5L1657.3 1033.2L1658.7 1033.1L1660 1033.5L1661.3 1032.7L1662.7 1033.2L1664 1032.7L1665.3 1032.5L1666.7 1032.4L1668 1031.5L1669.3 1031.1L1670.7 1030.4L1672 1029.8L1673.3 1029.1L1674.7 1028.8L1676 1027.7L1677.3 1027L1678.7 1026.9L1680 1025.9L1681.3 1024.6L1682.7 1024.5L1684 1024L1685.3 1023.5L1686.7 1022.8L1688 1022.8L1689.3 1021.9L1690.7 1021.3L1692 1020.1L1693.3 1019.9L1694.7 1019L1696 1018L1697.3 1016.6L1698.7 1017.3L1700 1017L1701.3 1015.8L1702.7 1015.3L1704 1015L1705.3 1014L1706.7 1014.2L1708 1013.2L1709.3 1013.3L1710.7 1012.6L1712 1011.8L1713.2 1010.9L1714.4 1010.7L1715.6 1010.8L1716.8 1010L1718 1009.6L1719.2 1008.7L1720.4 1008.2L1721.6 1007.5L1722.8 1006.9L1724 1005.5L1725.2 1004.9L1726.4 1003.2L1727.6 1002.8L1728.8 1001.4L1730 1000.9L1731.2 1000L1732.4 998.7L1733.6 998.4L1734.8 997.5L1736 996.9L1737.2 996.4L1738.4 995.5L1739.6 994.5L1740.8 992.2L1742 991.8L1743.2 990.6L1744.4 990.2L1745.6 988.5L1746.8 988.4L1748 986.6L1749.3 985.3L1750.7 984.5L1752 983.7L1753.2 983.8L1754.4 982.8L1755.6 982.7L1756.8 982.7L1758 981.6L1759.2 981.4L1760.4 981.2L1761.6 980.9L1762.8 979.6L1764 979.7L1765.2 979.4L1766.4 978.1L1767.6 977.3L1768.8 977.8L1770 976.6L1771.3 974.8L1772.7 972.6L1774 970.8L1775.3 969.6L1776.7 967.9L1778 965.9L1779.2 964.9L1780.4 963.5L1781.6 962L1782.8 959.6L1784 958.8L1785.2 956.9L1786.4 956.6L1787.6 955L1788.8 953.6L1790 951.8L1791.2 950.1L1792.4 948.4L1793.6 947.7L1794.8 946L1796 943.7L1797.2 942.1L1798.5 941.6L1799.8 939.9L1801 938.9L1802.2 937.9L1803.4 936.4L1804.6 934.7L1805.8 934.1L1807 933.1"/>
<path class="c" stroke="#00f0ff" d="M233.0 973.0 V984.4 M222.0 973.0 h22 M222.0 984.4 h22M307.9 982.0 V993.4 M296.9 982.0 h22 M296.9 993.4 h22M375.4 1015.6 V1028.0 M364.4 1015.6 h22 M364.4 1028.0 h22M440.2 1035.0 V1045.6 M429.2 1035.0 h22 M429.2 1045.6 h22M501.7 1033.0 V1044.4 M490.7 1033.0 h22 M490.7 1044.4 h22M563.0 1039.6 V1051.0 M552.0 1039.6 h22 M552.0 1051.0 h22M626.0 1041.4 V1052.8 M615.0 1041.4 h22 M615.0 1052.8 h22M684.5 1056.2 V1066.8 M673.5 1056.2 h22 M673.5 1066.8 h22M748.0 1052.6 V1064.1 M737.0 1052.6 h22 M737.0 1064.1 h22M809.8 1052.9 V1063.9 M798.8 1052.9 h22 M798.8 1063.9 h22M867.1 1045.5 V1055.9 M856.1 1045.5 h22 M856.1 1055.9 h22M929.0 1025.1 V1036.5 M918.0 1025.1 h22 M918.0 1036.5 h22M989.0 1005.8 V1017.4 M978.0 1005.8 h22 M978.0 1017.4 h22M1049.9 1001.2 V1012.8 M1038.9 1001.2 h22 M1038.9 1012.8 h22M1109.1 1002.2 V1013.2 M1098.1 1002.2 h22 M1098.1 1013.2 h22M1167.8 993.8 V1005.2 M1156.8 993.8 h22 M1156.8 1005.2 h22M1227.3 982.9 V994.8 M1216.3 982.9 h22 M1216.3 994.8 h22M1291.7 1006.8 V1018.8 M1280.7 1006.8 h22 M1280.7 1018.8 h22M1352.0 1024.1 V1034.9 M1341.0 1024.1 h22 M1341.0 1034.9 h22M1413.0 1034.1 V1045.7 M1402.0 1034.1 h22 M1402.0 1045.7 h22M1474.9 1047.6 V1059.6 M1463.9 1047.6 h22 M1463.9 1059.6 h22M1531.8 1047.6 V1058.6 M1520.8 1047.6 h22 M1520.8 1058.6 h22M1593.6 1037.1 V1048.7 M1582.6 1037.1 h22 M1582.6 1048.7 h22M1653.8 1028.8 V1040.2 M1642.8 1028.8 h22 M1642.8 1040.2 h22M1716.2 1003.4 V1014.8 M1705.2 1003.4 h22 M1705.2 1014.8 h22M1776.7 961.4 V972.2 M1765.7 961.4 h22 M1765.7 972.2 h22"/>
<path class="c" stroke="#ffc000" d="M233 721.9L234.5 715.7L236 711L237.3 706.4L238.7 703L240 698L241.3 693.9L242.7 690.7L244 685.7L245.3 684.9L246.7 682.4L248 681L249.3 679.7L250.7 677.5L252 675L253.3 673.1L254.7 669.4L256 667.8L257.3 664.5L258.7 660.4L260 655.9L261.5 652L263 648.9L264.2 647.4L265.5 645.7L267 639.7L268.5 638.8L270 637.6L271.5 640.2L273 643.9L274.5 648.8L276 653.7L277.3 656.4L278.7 659.1L280 662.2L281.3 666.1L282.7 667.8L284 671.7L285.3 675.3L286.7 676.5L288 679.8L289.3 683.4L290.7 686.7L292 689.8L293.3 693.5L294.7 696.4L296 698.6L297.5 703.4L299 706.9L300.3 708.5L301.7 710.1L303 711.6L304.5 713.8L306 714.8L307.5 717.9L309 721.8L310.3 719.8L311.6 725L313 729.3L314.5 728.3L316 728.1L317.3 730.9L318.7 733.3L320 735.2L321 737.6L322 740.2L323 738.2L324 737.1L325.5 739.6L327 742.9L328.2 740.8L329.5 739L330.5 744.1L331.5 751L332.5 750L333.5 749.3L334.7 753.7L335.8 757L337 761.9L338.5 768.5L340 773.7L341.5 778.7L343 781.7L344.5 788.8L346 795L347.3 798.8L348.7 800.8L350 803.9L351.5 807.4L353 811.8L354.5 814.7L356 818.1L357.3 821.6L358.7 825.4L360 830.3L361.5 832.2L363 836.3L364.5 840.6L366 846.2L367.3 847.4L368.7 848.8L370 849.2L371 850.6L372 854.2L373.5 853.8L375 852.2L376.5 856.5L378 860.7L379.5 856.1L381 852.8L382.5 855.9L384 857.8L385.3 856.4L386.7 855.1L388 853L389.5 854.9L391 856.2L392.1 853.9L393.3 850.6L394.5 852.6L395.8 853.8L397 855.2L398.2 855.8L399.5 856.9L400.8 857.9L402 860L403.2 860.4L404.5 862.5L405.8 863.1L407 863.9L408.3 865.7L409.7 867.3L411 869.7L412.3 873.4L413.7 874.7L415 878L416.3 881.5L417.7 885.1L419 887.8L420.5 890.3L422 892.7L423.5 897.3L425 902.9L426.5 905.1L428 906.9L429.3 907.5L430.7 908.4L432 908.7L433.3 911.6L434.7 912.1L436 914.9L437.3 916.7L438.7 916.8L440 918.7L441.5 919.6L443 921.7L444.5 924.1L446 926.2L447.3 926.5L448.7 925.4L450 925.3L451.3 923.2L452.7 921.7L454 920.3L455.3 919.5L456.7 921.4L458 920.9L459.3 919.6L460.7 919.1L462 917L463.3 916.8L464.7 915.3L466 913.7L467.5 913.4L469 910.7L470 908.3L471 904.9L472.5 907.8L474 908.8L475 906.9L476 905.8L477.5 909.9L479 912.9L480.3 914.2L481.7 915.7L483 916.2L484.2 916.1L485.5 914.6L486.8 913.8L488 914L489.3 914.4L490.7 916.5L492 917L493.3 918.5L494.7 919.1L496 920.9L497.5 920.6L499 919.1L500.5 922.7L502 927L503.3 925.4L504.7 924.3L506 922.1L507.3 920.6L508.7 919.9L510 919.8L511.3 922.2L512.7 923.1L514 924.6L515.3 926.9L516.7 928.2L518 929.8L519.3 930.6L520.7 933L522 934L523.3 933.8L524.7 931.5L526 930.9L527.3 931.9L528.7 932.1L530 931.8L531.2 931.3L532.5 931.9L533.8 931.1L535 930.6L536.2 932.2L537.5 934.3L538.8 934.7L540 935.9L541.3 938.1L542.7 939.9L544 943.3L545.3 944.7L546.7 947.5L548 950L549.3 951.6L550.7 953.2L552 955.7L553.3 958L554.7 959.5L556 960L557.3 961.7L558.7 962.3L560 962.5L561.3 962.7L562.7 963.6L564 964.7L565.3 966.4L566.7 966.1L568 968.3L569.3 967.6L570.7 967.3L572 966L573.3 968L574.7 968.6L576 969.9L577.3 972.4L578.7 972.5L580 975.2L581.3 975.4L582.7 976.4L584 976.3L585.3 975.6L586.7 976.5L588 977L589.3 976.7L590.7 975.3L592 975.9L593.2 974.5L594.5 974.2L595.8 975.4L597 974.4L598.5 974.4L600 972.9L601 972.8L602 971.2L603.2 970L604.4 970.2L605.6 969.5L606.8 970.2L608 969.6L609.3 970L610.7 968.8L612 969.2L613.3 970.1L614.7 971.1L616 972.7L617.2 974.1L618.5 973.8L619.8 974.8L621 974.8L622.2 975.9L623.5 975.3L624.8 976.8L626 976.6L627.2 977.5L628.5 975.7L629.8 976.4L631 975.6L632.2 976.1L633.5 978.5L634.8 979.7L636 979.6L637.2 980.6L638.4 981.7L639.6 982.1L640.8 983.7L642 984.8L643.2 985.9L644.4 987.7L645.6 988.4L646.8 988.9L648 991L649.2 991.6L650.4 993.2L651.6 994.8L652.8 994.8L654 997.1L655.2 998.6L656.4 998.8L657.6 999.1L658.8 1000.7L660 1002L661.2 1003.4L662.4 1004.9L663.6 1005.9L664.8 1007.1L666 1008L667.2 1008.1L668.4 1008.5L669.6 1010.2L670.8 1010.4L672 1010.7L673.2 1012.3L674.4 1011.6L675.6 1013.9L676.8 1013.4L678 1014.8L679.2 1015.9L680.4 1017L681.6 1016.9L682.8 1019L684 1019.5L685.2 1019.8L686.4 1020.6L687.6 1022.4L688.8 1021.6L690 1023L691.3 1024.3L692.7 1025.2L694 1025.5L695.3 1023.9L696.7 1022.1L698 1020.7L699.2 1019.9L700.5 1019.5L701.8 1018.2L703 1016.5L704.2 1016.6L705.5 1014.4L706.8 1015.2L708 1013.5L709.2 1012.2L710.5 1012.6L711.8 1010.9L713 1010.8L714.2 1010.4L715.5 1009.6L716.8 1009.4L718 1010L719.2 1010.1L720.5 1009.6L721.8 1009.1L723 1008.1L724.2 1006.7L725.5 1007.1L726.8 1007.9L728 1007.1L729.2 1007.2L730.5 1005.8L731.8 1005.1L733 1005.2L734.2 1004.2L735.5 1003.1L736.8 1003L738 1002L739.2 1002.1L740.5 1002.2L741.8 1003.5L743 1003.1L744.2 1004.2L745.5 1005.1L746.8 1005.3L748 1007L749.2 1007.3L750.5 1006.9L751.8 1008.5L753 1008.3L754.2 1007.8L755.5 1007.2L756.8 1008L758 1007.1L759.2 1006.5L760.5 1007.5L761.8 1005.9L763 1006.4L764.2 1007L765.5 1007.9L766.8 1009L768 1009.9L769.2 1008.9L770.5 1010L771.8 1008.3L773 1009L774.2 1008.5L775.5 1007.5L776.8 1008.1L778 1007L779.2 1006L780.5 1006.5L781.8 1005.9L783 1004.5L784.2 1003.8L785.5 1004.1L786.8 1004L788 1003.6L789.2 1003.9L790.5 1003.3L791.8 1001.9L793 1001.9L794.2 1001.4L795.5 1001.2L796.8 1000L798 1000.1L799.2 1000.4L800.5 1001.2L801.8 1001.5L803 1001.1L804.2 1001.2L805.5 1000.4L806.8 1002.1L808 1001.5L809.2 1001.1L810.5 1000.9L811.8 1000.4L813 1000.4L814.2 1000.4L815.5 999.2L816.8 998.5L818 998L819.2 996.7L820.5 996.8L821.8 995.8L823 995.6L824.2 996.4L825.5 995.1L826.8 995.1L828 994.7L829.3 994.2L830.7 994.4L832 993.4L833.2 992L834.5 991.1L835.8 989.3L837 988.2L838.2 986.7L839.5 985.2L840.8 983.7L842 982.9L843.2 982.6L844.5 980L845.8 980.2L847 978.6L848.2 977.5L849.5 975.7L850.8 975.7L852 974.4L853.2 974L854.5 973.9L855.8 974.3L857 974.1L858.2 974.3L859.5 974.4L860.8 975.5L862 975.7L863.2 974.6L864.5 975.1L865.8 974.4L867 974.1L868.2 975.1L869.5 975.1L870.8 975.3L872 974.6L873.2 975L874.5 975.3L875.8 975.8L877 976.3L878.2 974.9L879.5 974.8L880.8 974L882 973.1L883.2 972.1L884.5 972.7L885.8 971.3L887 971.4L888.2 970.9L889.5 969.3L890.8 968.8L892 968.2L893.2 966.3L894.5 964.1L895.8 963.9L897 961.6L898.2 960.2L899.5 957.6L900.8 956.3L902 954.8L903.2 952.7L904.5 951.4L905.8 948.9L907 947.7L908.3 946.6L909.7 945.3L911 943.9L912.4 945.8L913.6 943.1L914.8 939.7L916 935.8L917.3 932.2L918.7 929.1L920 925.7L921.3 923.9L922.7 922.6L924 919.7L925.3 918.4L926.7 916.2L928 913.6L929.3 911.8L930.7 911L932 908.8L933.3 908.9L934.7 907.5L936 908.1L937.3 906.7L938.7 906.2L940 906.9L941.3 906.1L942.7 903.9L944 903L945.3 900.8L946.7 898.2L948 896.5L949.3 894.1L950.7 891.1L952 887.5L953.3 882.6L954.7 876.2L956 871.9L957.3 868.6L958.7 865.4L960 862.1L961.3 858.3L962.7 856.1L964 854.1L965.5 850.3L967 846.9L968 843.4L969 839.6L970 837.9L971 836.2L972.5 834.2L974 832L975.3 829.7L976.7 829.4L978 827.9L979.5 825.9L981 825L982.5 823.1L984 821.9L985.5 821.5L987 819.6L988 818L989 816.7L990.5 816L992 816L993.5 815.9L995 817.3L996.5 817.9L998 819.9L999 822.7L1000 825.6L1001.5 824.1L1003 823.8L1004 829.8L1005 833.6L1006.5 836.3L1008 839L1009.5 841.9L1011 844.3L1012.5 843.1L1014 842.8L1015.1 845.7L1016.3 848.9L1017.6 847.6L1019 845.1L1020.2 847.6L1021.5 848.7L1022.8 846.3L1024 843.1L1025.5 842.4L1027 843.8L1028 840.6L1029 836L1030.5 837.1L1032 837.9L1033.5 836L1035 832.8L1036.3 832L1037.7 831.5L1039 832.2L1040.3 833L1041.7 832L1043 832.9L1044.2 831.3L1045.5 830.2L1046.8 830.9L1048 833.2L1049.5 832.8L1051 833.7L1052.5 835.2L1054 838L1055.5 835.3L1057 834.2L1058.5 835.7L1060 837.9L1061.5 837.5L1063 838L1064.5 836.5L1066 834L1067.2 836.1L1068.3 838.1L1069.4 834.2L1070.5 831L1071.8 832.2L1073 833.1L1074.5 832.8L1076 832.7L1077.2 834.9L1078.3 835.9L1079.5 837.7L1080.7 837.1L1081.8 835.5L1083 834.7L1084.5 833.5L1086 831.9L1087 833.7L1088 834.6L1089.5 833.7L1091 831.7L1092.5 831.6L1094 832.3L1095.5 830.7L1097 830.2L1098.2 830.9L1099.5 831.5L1100.8 828.5L1102 825.7L1103.5 825.1L1105 825L1106.2 822.3L1107.5 821.2L1108.8 819.6L1110 816.6L1111.2 815.6L1112.3 813.6L1113.7 814.4L1115 814.7L1116 813L1117 812.2L1118.2 808.3L1119.5 804.8L1120.8 801.8L1122 799.9L1123.5 798.6L1125 797L1126.5 795.9L1128 793.9L1129.5 791.5L1131 790.7L1132.2 787.8L1133.5 786.2L1134.8 781.2L1136 777.6L1137.2 773.4L1138.3 770L1139.7 767.7L1141 766.9L1142.5 764.7L1144 762.1L1145.2 764.9L1146.3 767.2L1147.7 769L1149 769.8L1150.5 773.2L1152 775L1153.2 774.1L1154.3 772.2L1155.7 774.4L1157 777.2L1158.5 779.7L1160 781.7L1161.5 783.6L1163 786.3L1164.5 784.7L1166 784.7L1167.5 785.7L1169 786.8L1170.5 784.8L1172 783.8L1173.5 782.6L1175 781.7L1176 783L1177 784.6L1178.5 781.4L1180 779.1L1181.5 775.2L1183 773.2L1184.5 769.5L1186 765.8L1187.5 762L1189 758.8L1190.5 755.4L1192 752.6L1193.1 750.2L1194.2 749.7L1195.3 747.7L1196.7 748.3L1198 749.5L1199.5 747L1201 743.3L1202.2 744L1203.3 744.7L1204.8 742.9L1206.3 739.8L1207.5 741.5L1208.7 744L1210.2 744.7L1211.7 744.2L1212.9 745.4L1214.1 747.3L1215.3 748.9L1216.5 754.7L1217.7 758.8L1219.2 759.4L1220.7 760.2L1222 765.6L1223.3 769.6L1224.5 774L1225.7 777.7L1226.9 781.1L1228.1 785.6L1229.4 787.6L1230.7 788.6L1232.2 792.6L1233.7 798L1235.2 800L1236.7 802.9L1238.2 807.1L1239.7 810.8L1241.2 812.5L1242.7 816.1L1243.7 817.6L1244.7 821L1246.2 820.3L1247.7 820.1L1249.2 822.1L1250.7 825.1L1252.2 825.4L1253.7 825.8L1255 826.8L1256.4 828.3L1257.7 829.6L1259.2 831.8L1260.7 833.7L1262.2 833.1L1263.7 833.1L1265 835.4L1266.4 835.6L1267.7 838.2L1269 839.6L1270.4 840.1L1271.7 842.2L1273 843.8L1274.4 845.9L1275.7 846.7L1277 849.3L1278.4 852.6L1279.7 854.5L1281 856.9L1282.4 860L1283.7 862.1L1285 863.7L1286.4 866.3L1287.7 869.5L1289 872.6L1290.4 877L1291.7 879.5L1293 884.3L1294.4 887.7L1295.7 891.6L1297 895.1L1298.4 897.9L1299.7 900.1L1301 902.2L1302.4 905.2L1303.7 908.7L1305 912.1L1306.4 913.6L1307.7 917.1L1309 919.2L1310.4 922.4L1311.7 924.5L1313 926.7L1314.4 928L1315.7 929.6L1316.9 931L1318.1 931.2L1319.3 932.2L1320.5 933.4L1321.7 935L1322.9 936L1324.1 935.6L1325.3 936.3L1326.5 938L1327.7 938.8L1329 939.2L1330.4 941.2L1331.7 941.1L1333 942.2L1334.2 942L1335.5 943.1L1336.7 942.7L1337.8 944.1L1338.9 944L1340 943.9L1341.5 945.1L1343 947.2L1344.5 947.4L1346 949.2L1347.5 950.6L1349 951.9L1350.2 953.3L1351.5 955.9L1352.7 958.3L1354 960.6L1355.2 962.3L1356.5 963.7L1358 965.7L1359.5 967.5L1361 969.1L1362.5 971.7L1363.7 973.3L1365 973.2L1366.2 974.8L1367.5 975.4L1368.7 977.7L1370 977.8L1371.2 980.2L1372.5 980.4L1373.7 982.4L1375.2 983.2L1376.7 984.6L1378 984.2L1379.2 984.3L1380.5 983.9L1382 984.9L1383.5 984L1385 985.1L1386.5 985.8L1388 984.4L1389.5 984L1391 984.2L1392.5 983.3L1394 983.1L1395.5 982.2L1396.9 982L1398.4 980.1L1399.9 981.8L1401.4 982.3L1402.9 982.8L1404.4 981.8L1405.9 981.9L1407.4 982.9L1408.9 983.6L1410.4 985L1411.9 985.6L1413.4 984.9L1414.9 985.9L1416.4 988.1L1417.9 987.5L1419.4 989L1420.7 989.2L1421.9 989.4L1423.2 989.7L1424.7 992.4L1426.2 994.3L1427.4 996.8L1428.7 997.6L1429.9 1000.2L1431.2 1001.2L1432.4 1003.4L1433.7 1005L1434.9 1006.5L1436.2 1007.6L1437.4 1008.5L1438.9 1009.1L1440.4 1011L1441.9 1011.3L1443.4 1011.9L1444.9 1011.6L1446.4 1011.9L1447.9 1011.1L1449.4 1010.4L1450.9 1011.1L1452.4 1011.3L1453.9 1011.5L1455.4 1012.9L1456.9 1013.6L1458.4 1013.2L1459.9 1014.5L1461.4 1014.1L1462.9 1015L1464.4 1015.5L1465.9 1014.7L1467.4 1015.1L1468.9 1015.7L1470.4 1016.4L1471.9 1016.3L1473.4 1015.5L1474.9 1017.1L1476.4 1016.8L1477.9 1018.3L1479.4 1019.9L1480.9 1020.2L1482.4 1021.6L1483.6 1022.3L1484.9 1024.3L1486.1 1024.3L1487.4 1025.9L1488.6 1026.9L1489.9 1028.2L1491.4 1029.5L1492.9 1029.8L1494.4 1032.2L1495.9 1032.4L1497.4 1033.7L1498.9 1033.7L1500.4 1032.5L1501.9 1033.8L1503.4 1032.9L1504.9 1033.1L1506.3 1032.8L1507.8 1033.7L1509.3 1033.1L1510.8 1034.5L1512.3 1033.6L1513.8 1034.1L1515.3 1031.8L1516.8 1032.5L1518.3 1032.4L1519.8 1030.4L1521.3 1030.2L1522.8 1030.2L1524.3 1029.3L1525.8 1027.9L1527.3 1027.3L1528.8 1027.9L1530.3 1027.3L1531.8 1026.6L1533.3 1027.7L1534.8 1027.2L1536.3 1027L1537.8 1026.5L1539.3 1027L1540.8 1027L1542.3 1025.8L1543.8 1025.9L1545.3 1025L1546.8 1024.1L1548.3 1024.7L1549.8 1023.8L1551.3 1023.3L1552.8 1023.8L1554.3 1023.6L1555.8 1023.7L1557.3 1022.9L1558.8 1024L1560.3 1025.5L1561.8 1025.7L1563.3 1026.7L1564.8 1027.3L1566.3 1027.7L1567.8 1026.9L1569.3 1026.1L1570.8 1026.5L1572.3 1026.4L1573.8 1024.3L1575.3 1024.5L1576.8 1024.3L1578.3 1022.8L1579.8 1022.4L1581.3 1021.7L1582.8 1023.4L1584.3 1022.6L1585.8 1023L1587.3 1022.4L1588.8 1023.1L1590.3 1022.8L1591.8 1023.6L1593.3 1022.5L1594.8 1023.4L1596.3 1023.6L1597.8 1024.3L1599 1023.9L1600.3 1023.3L1601.5 1023.5L1603 1022.9L1604.5 1021.2L1606 1019.6L1607.5 1019.7L1609 1018.8L1610.5 1018.7L1611.7 1017.2L1613 1017L1614.2 1015.6L1615.5 1012.5L1616.7 1010.4L1618 1008.3L1619.2 1007.6L1620.5 1006L1621.7 1005L1623.2 1003.8L1624.7 1001.8L1626.2 1000.2L1627.7 999.1L1629.2 997.8L1630.7 995.5L1632 993.1L1633.2 992.4L1634.5 991.4L1635.8 990.2L1637.1 990.5L1638.4 990.4L1639.7 989.7L1640.8 988.9L1641.9 987.2L1643 985.8L1644.2 984.7L1645.5 984.3L1646.8 984.2L1648 983L1649.2 982.7L1650.5 981.6L1651.8 979.2L1653 978.7L1654.2 979.1L1655.5 977.8L1656.8 976.5L1658 977.1L1659.3 978L1660.7 977.7L1662 977.9L1663.3 977.3L1664.7 976L1666 975.8L1667.3 974.3L1668.7 973.3L1670 972.1L1671.3 972.3L1672.7 972.2L1674 970.6L1675.2 969.9L1676.4 967.8L1677.6 967.1L1678.8 964.6L1680 964.1L1681.2 962.7L1682.4 960.9L1683.6 959.2L1684.8 957.7L1686 957L1687.2 955.9L1688.4 955.6L1689.6 955.6L1690.8 953.8L1692 954.1L1693.3 950.7L1694.7 947.5L1696 943.8L1697.3 941.6L1698.7 937.9L1700 936.1L1701.2 933.9L1702.5 930.1L1703.8 928.3L1705 926.2L1706.2 924.3L1707.5 922.3L1708.8 921.4L1710 919.6L1711.3 915.9L1712.7 912.9L1714 910.2L1715.3 906.1L1716.7 903L1718 899.9L1719.3 895.1L1720.7 891.6L1722 887.7L1723.3 883.1L1724.7 876.8L1726 871.6L1727.5 870.5L1729 867.8L1730.5 862.8L1732 856.6L1733.3 852.8L1734.7 847.4L1736 842.9L1737.3 840.2L1738.7 836.1L1740 832L1741.5 830.2L1743 829.1L1744.8 825.7L1746.1 825L1747.5 822.3L1748.8 820.9L1749.8 816.5L1750.8 811.5L1752.3 810.8L1753.8 810.5L1755.3 807.6L1756.8 802.6L1758 802.6L1759.3 802.7L1760.5 803.5L1761.8 802.6L1762.8 802.8L1763.8 804L1765.1 802.7L1766.5 802L1767.8 800L1769 799.9L1770.2 799.6L1771.5 793.1L1772.8 787.5L1774.3 784.6L1775.8 781.8L1776.8 775.6L1777.8 769.7L1779 768.5L1780.2 767.7L1781.5 763.1L1782.8 757.9L1784.1 756.2L1785.4 754.9L1786.6 747.6L1787.8 739.6L1789.3 736L1790.8 733.5L1792.3 726.7L1793.8 720.6L1795.1 719.2L1796.4 718.6L1797.9 712.5L1799.4 705.6L1800.8 706.4L1802.2 705.6L1803.5 701.5L1804.8 697.6L1806 694.6L1807.2 691.2"/>
<path class="c" stroke="#ffc000" d="M233.0 713.3 V730.1 M222.0 713.3 h22 M222.0 730.1 h22M307.9 713.9 V730.1 M296.9 713.9 h22 M296.9 730.1 h22M375.4 841.4 V859.4 M364.4 841.4 h22 M364.4 859.4 h22M440.2 911.0 V927.0 M429.2 911.0 h22 M429.2 927.0 h22M501.7 913.6 V931.0 M490.7 913.6 h22 M490.7 931.0 h22M563.0 956.0 V973.4 M552.0 956.0 h22 M552.0 973.4 h22M626.0 967.9 V983.9 M615.0 967.9 h22 M615.0 983.9 h22M684.5 1008.2 V1024.2 M673.5 1008.2 h22 M673.5 1024.2 h22M748.0 997.8 V1015.4 M737.0 997.8 h22 M737.0 1015.4 h22M809.8 993.8 V1009.8 M798.8 993.8 h22 M798.8 1009.8 h22M867.1 966.9 V982.9 M856.1 966.9 h22 M856.1 982.9 h22M929.0 905.9 V923.5 M918.0 905.9 h22 M918.0 923.5 h22M989.0 811.9 V828.9 M978.0 811.9 h22 M978.0 828.9 h22M1049.9 823.9 V840.5 M1038.9 823.9 h22 M1038.9 840.5 h22M1109.2 808.9 V825.3 M1098.2 808.9 h22 M1098.2 825.3 h22M1167.8 778.3 V795.5 M1156.8 778.3 h22 M1156.8 795.5 h22M1227.3 773.3 V791.1 M1216.3 773.3 h22 M1216.3 791.1 h22M1291.6 870.7 V888.3 M1280.6 870.7 h22 M1280.6 888.3 h22M1352.0 948.7 V965.5 M1341.0 948.7 h22 M1341.0 965.5 h22M1413.0 978.7 V996.2 M1402.0 978.7 h22 M1402.0 996.2 h22M1474.9 1006.9 V1024.7 M1463.9 1006.9 h22 M1463.9 1024.7 h22M1531.8 1018.1 V1035.6 M1520.8 1018.1 h22 M1520.8 1035.6 h22M1593.6 1013.6 V1030.4 M1582.6 1013.6 h22 M1582.6 1030.4 h22M1653.8 969.8 V986.2 M1642.8 969.8 h22 M1642.8 986.2 h22M1716.2 893.9 V912.5 M1705.2 893.9 h22 M1705.2 912.5 h22M1776.8 769.8 V786.2 M1765.8 769.8 h22 M1765.8 786.2 h22"/>
<path class="c" stroke="#ff2000" d="M233 231.8L234.4 217.7L235.6 214.4L236.8 212.9L238 209.7L239 204.1L240 197.6L241.5 186.9L243 174L244 170.5L245 167.6L246.5 167.1L248 165.2L249 156.8L250.1 154.1L251.2 153.9L252.3 151.2L254 146.9L255.5 143.6L257 142.1L258.5 135.8L260 127.7L261 123.7L262 120.3L263 115.5L264 110.3L265.5 107.1L266.5 95.8L267.7 94.9L268.8 92.6L270 90.3L271.1 94.7L272.3 99.8L273.6 109.9L275 118.3L276 121.7L277 126.7L278.1 128.3L279.3 131.1L280.5 136.8L281.8 143L283 150L284.5 153.9L286 156L287.5 159.2L289 163.7L290.5 170.6L292 177.9L293.3 184.8L294.7 191.8L296 199.9L297.5 210.4L299 221.8L300.5 225.2L302 230.1L303.5 236.5L305 241.9L306.5 249.2L308 257.9L309 255.7L310 254.7L311.2 262L312.5 270.3L313.8 270.4L315.2 272.6L316.5 273.6L317.7 279.7L318.8 287L320 292.3L321.5 304L323 297.8L324.5 307L326 317L327.2 313.4L328.4 309.8L330 319.6L331.4 341.2L333 338.4L334 349.9L335 360L336.5 369.8L338 379.7L339.6 400.4L340.8 402.4L342 404.7L343.2 413.4L344.4 420.1L346 436.2L347.3 437.6L348.6 438.8L349.7 445.3L350.9 450.8L352 456L353.1 457.4L354.3 456.7L355.5 464.9L356.6 471.2L357.8 477.2L359 485.3L360 485.7L361 485.3L362.1 489.2L363.2 493.9L364.3 498.1L366 510.2L367.2 509.5L368.3 508.6L369.5 508.9L370.9 514.7L372.3 520.6L373.3 512.9L374.3 506.1L375.6 517L377 527.8L378.5 526.3L380.3 501.6L381.3 502L382.3 504.1L383.8 508.8L385.3 512.3L386.6 506.3L388 500L389.5 506.5L391 514.4L392 509.3L393 503.8L394.5 509.3L396 513.2L397.3 519.9L398.7 524.8L400 531L401.5 534.2L403 536.8L404.5 537.6L406 539.3L407 544.6L408 549.3L409.2 552.5L410.4 555.3L411.6 557.6L412.7 565.3L413.9 570.7L415 578.1L416 579.3L417 579.8L418.5 590.4L420 599.7L421.3 600.2L422.6 602.2L424 611.9L425.6 628L427 628.3L428.3 628.1L429.6 628.7L431 628.2L432 631.3L433 635.2L434.3 634.6L435.7 634.7L437 632.8L438 637.6L439 641L440.1 641.9L441.3 640.1L442.4 640.8L443.7 644L445 646.4L446.3 646.6L447.7 646.1L449 644.8L450.3 648.6L451.6 651.6L452.8 648.4L454 645L455 646.2L456 648.7L457.5 649.2L459 648L460.5 648.8L462 649.3L463 650.9L464 651.4L465.5 644.8L466.5 649.5L467.5 653.2L468.8 648.2L470 643.9L471.5 655.6L472.8 659.2L474 664.1L475.1 664.1L476.3 662.9L478 673.7L479.3 685.1L480.3 682.3L481.3 681.3L482.6 685L484 690.8L485.5 691.8L487 691.2L488.1 689.1L489.3 687.7L490.6 690.8L492 693L493 695.4L494 699.8L495.2 694.2L496.5 690.7L497.9 697.7L499.3 705.1L500.6 700.7L502 698.3L503.1 701.5L504.3 702.6L505.6 700L506.9 697.8L508.2 694.9L509.5 692.3L510.8 695.1L512 697.9L513.1 697.5L514.3 694.8L515.3 700.7L516.3 705.9L517.6 699.8L519 695.6L520.5 698.6L522 701.6L523.2 700.5L524.3 698L525.5 695.7L526.9 699.7L528.3 704.1L529.3 702.2L530.3 701.5L531.6 704.5L533 707L534 706.2L535 705.4L536.5 711.1L538 717.8L539.2 721L540.5 725.4L541.5 735.3L542.6 746.9L544 747.6L545.4 749.9L546.7 757.4L548 763.8L549 767.9L550 769.9L551.2 775.2L552.4 782.3L553.7 784.1L555 787L556 785.2L557 781.9L558.5 786.1L560 788.7L561 786.9L562 784.8L563 787.3L564 787.9L565 787.6L566 786.2L567.3 788.8L568.6 793.3L570 789.7L571.4 785.4L572.6 786.1L573.8 789.4L575 790L576.3 791.1L577.7 793.7L579 795.8L580.3 792.2L581.7 789.9L583 786.4L584 787.8L585 789.3L586.1 785L587.3 782.5L588.5 783.5L589.6 784.7L590.8 786.7L592 787.5L593.4 785.4L594.9 783.1L596.3 782.5L597.5 784.7L598.8 786.8L600 788.3L601.5 791.8L603 794L604.5 793.6L606 793.1L607.3 796.2L608.7 799.5L610 801.7L611.5 801.6L613 800.9L614.2 805.3L615.5 809.9L616.8 810.4L618.1 812.8L619.4 813.2L620.7 815L622 814.9L623.5 819.4L625 823.1L626.3 825.9L627.7 828.4L629 830.6L630.1 832.1L631.2 834.6L632.3 835.8L633.6 833L635 831.7L636.1 832.2L637.3 832.6L638.6 827.5L640 823.8L641.3 823.3L642.7 821.6L644 819.6L645.3 821.2L646.7 822.5L648 825.1L649.2 824.6L650.4 825.9L651.6 825.5L652.8 826L654 826.7L655.3 828.9L656.7 830.6L658 831.7L659.1 832.3L660.2 832.4L661.3 833L662.5 833.9L663.6 835.8L664.8 838.3L666 839.2L667.3 840.5L668.7 840.8L670 842.4L671.5 841.3L673 842.2L674.3 843.5L675.7 845.5L677 847.7L678.5 852L680 856.4L681.5 860.1L683 866.1L684.5 873.3L686 879.8L687.5 882.6L689 884.6L690.2 886.5L691.5 889.2L693 891.7L694.5 895.7L696 897.7L697.1 896.5L698.3 896.7L699.6 893.8L701 892.3L702.1 892.1L703.3 892.6L704.6 891.2L706 887.8L707.5 888.5L709 889.2L710.5 886.2L712 884.8L713.5 880.8L715 877.6L716.1 875.9L717.3 874.9L718.8 876.6L720.3 877.7L721.5 874L722.8 870L724 866.8L725.1 868.8L726.2 870.9L727.3 873.5L728.5 870.8L729.8 868.6L731 866.2L732.5 864.2L734 863.7L735.5 859.4L737 856L738.3 852.8L739.7 851.5L741 848.5L742.5 851.2L744 852.4L745.1 851.5L746.3 851.3L747.5 854.6L748.8 855.7L750 858.9L751.2 859.4L752.4 861.2L753.6 863.8L754.8 864.5L756 866.1L757.2 866.8L758.4 867.1L759.6 868.4L760.8 869L762 869.1L763.4 871.4L764.8 871.2L766.2 873.8L767.6 874.2L769 874.8L770.3 873.8L771.7 873L773 872.7L774.3 873.5L775.7 874.4L777 875.7L778.5 876.2L780 874.4L781.5 874.7L783 872.8L784.5 871.4L786 870.2L787.5 866.1L789 861.8L790.5 861.8L792 860.2L793.5 856.5L795 854.2L796.3 853.4L797.7 851.6L799 850.2L800 851.1L801 852.1L802.2 852L803.4 851.3L804.6 848.8L805.8 848.6L807 848L808.2 847.7L809.5 846.8L810.8 845L812 843.8L813.3 842.2L814.7 839.7L816 838.3L817.5 833.2L819 830L820.1 828.3L821.2 826.8L822.3 825.9L823.5 828L824.8 829.3L826 831.1L827.3 830.6L828.7 830.6L830 828.7L831.1 830.9L832.2 830.6L833.3 832.2L834.6 829.4L836 824.8L837.2 823.5L838.3 821.2L839.5 819.7L840.7 816.3L841.8 812.6L843 808L844.5 804.4L846 799.4L847.2 797.7L848.5 797.5L849.8 795.3L851 794.7L852.3 793.8L853.7 795.3L855 794.1L856.3 795L857.7 797.3L859 797.6L860.3 795.3L861.7 793.2L863 792.1L864.5 787.8L866 783.8L867.3 782.5L868.7 778.8L870 777.2L871.2 776.1L872.4 775.4L873.6 774L874.8 773.3L876 772.7L877.3 770.4L878.7 766.8L880 763L881.2 765.4L882.4 765.3L883.6 767.9L884.8 769.8L886 770.4L887.3 766.7L888.7 763.3L890 761.3L891.2 758.8L892.4 758.7L893.6 755.8L894.8 756L896 754.3L897.2 754.7L898.4 755.3L899.6 754.8L900.8 755L902 755.1L903.2 754L904.5 754.3L905.8 752.6L907 752.2L908 746.3L909 742.1L910.5 744L912 745.3L913.5 735.9L915 726L916.5 719.8L918 714.4L919.3 711.3L920.7 708.3L922 706.1L923.2 704.9L924.5 702.8L925.8 701.7L927 701.2L928 699.6L929.3 691.9L930.7 686L932 677.6L933.5 676.8L935 675.8L936.5 668.6L938 662.6L939.5 657.3L941 651.8L942.5 647.1L944 641.6L945.5 630.1L947 619.7L948.5 611.4L950 602.1L951.6 587.7L952.8 582.3L954 575.6L955.2 563.9L956.5 551.8L957.8 546.6L959 541.9L960.5 538.3L962 533.8L963 528L964 521L965 515.3L966 509.9L967 507.1L968 505L969.1 495.1L970.3 483.7L972 480.9L973 477L974 472.6L975.5 472.9L977 471.9L978.3 471.9L979.7 470.6L981 471L982.3 468.7L983.7 467.9L985 465.8L986.5 463.9L988 462.3L989.5 464.1L991 464.1L992.5 467L994 470.3L995.5 471.3L997 470.9L998 474.5L999 477.8L1000.2 479.1L1001.5 481.9L1003 478.2L1004 488.8L1005 499.3L1006.5 501.2L1008 504.4L1009.2 511.5L1010.5 518.8L1011.7 518.5L1012.8 516.5L1014 514.7L1015.2 521.3L1016.5 527.2L1017.7 524.6L1018.8 522.5L1020 521.1L1021.2 525.2L1022.5 527.9L1023.8 522.7L1025 516.3L1026.5 523.7L1027.8 514.7L1029 505.6L1030.5 507.2L1032 508.1L1033.5 500.1L1035 494.2L1036 494.2L1037 492.8L1038.5 495.6L1040 497.6L1041.2 498.4L1042.3 499.9L1043.7 498.8L1045 497.9L1046.2 503L1047.3 506.9L1048.4 505.4L1049.5 501.6L1050.5 506.6L1051.5 512L1052.9 518.5L1054.3 523.3L1055.5 522L1056.7 520.4L1057.8 518.1L1059 516.9L1060.5 522L1062 525.8L1063.2 520.8L1064.3 517.7L1065.9 521.5L1067.5 526.5L1068.7 520.4L1069.8 514.8L1071 509.3L1072 512.1L1073 515.7L1074.2 514.4L1075.3 512.9L1076.8 518.2L1078.3 523.3L1079.5 519.7L1080.8 517L1082 514.6L1083.2 511.8L1084.3 510L1085.5 508.2L1086.8 511.4L1088 514.6L1089.5 511.6L1091 507.6L1092.2 512.6L1093.5 516L1094.7 510.3L1095.8 506.6L1097 501.3L1098.5 503.4L1100 506.3L1101.5 499.4L1103 492.2L1104.5 490.5L1106 487.8L1107 485.2L1108 483.3L1109.8 472.1L1110.8 468.4L1111.8 464.2L1113.4 470.7L1114.4 470.1L1115.4 468L1116.6 460.4L1117.8 454.2L1118.8 451.8L1119.8 447.6L1121 442.5L1122.2 437.9L1123.3 437.3L1124.5 435.3L1125.7 434.4L1126.8 432.9L1128.4 425L1129.9 421.5L1131.4 418L1132.6 411.6L1133.8 406.2L1134.8 398.4L1135.8 390.1L1136.8 382L1137.8 374.9L1139.3 375.3L1140.8 375L1142.1 371.4L1143.4 366.7L1144.6 369.8L1145.8 374L1147 370.5L1148.2 368.1L1149.8 374.8L1151.4 382.5L1152.6 379.1L1153.8 374.2L1155.3 379.9L1156.8 384.8L1158.1 386L1159.4 386.6L1160.6 393.1L1161.8 398.1L1162.8 395.9L1163.8 393.6L1165.3 398.3L1166.8 402.5L1168 404.6L1169.2 405.8L1170.5 403.1L1171.8 400.6L1173 402.6L1174.2 403.9L1175.5 406.2L1176.8 409.5L1177.8 405.6L1178.8 401L1180.3 396.2L1181.8 392.3L1183.3 384.5L1184.8 378L1186.3 372.7L1187.8 366.1L1189.1 359.7L1190.4 354.2L1192.2 351.6L1193.2 344.9L1194.2 335.9L1195.5 338.3L1196.8 341.9L1198.1 337.9L1199.4 332.7L1200.7 329.1L1202 336L1203.3 341.3L1204.5 336.8L1205.7 334.1L1207 337.6L1208.3 342.6L1209.5 339.8L1210.7 338.3L1211.7 342L1212.7 346.8L1214.2 349.9L1215.7 351.3L1216.7 361.5L1217.7 372.1L1218.7 369.6L1219.7 368.2L1220.7 373.3L1221.7 377.9L1223.2 390.2L1224.7 402.1L1226.3 399.7L1227.7 424.3L1228.9 426.1L1230.1 428.2L1231.4 437.8L1232.7 445.8L1234.1 459.8L1235.1 464.7L1236.1 467.9L1237.4 480.3L1238.7 492.3L1239.7 502.7L1240.7 512L1242.1 510L1243.4 521L1244.7 531.7L1245.7 528.9L1246.7 524.3L1247.7 529.1L1248.7 534.7L1250 538.6L1251.3 544L1252.5 544L1253.7 541.9L1254.9 542.3L1256.1 542.2L1257.3 543.3L1258.3 548.8L1259.3 554.9L1260.4 555.9L1261.6 557.7L1262.7 559.8L1264.2 561.3L1265.7 561.7L1267.2 566.9L1268.7 570.3L1269.8 571.1L1270.9 572.5L1272 572.3L1273 576.6L1274 580.8L1275.3 583.1L1276.7 586.9L1278.3 603.9L1279.8 611.5L1281.3 618.2L1282.4 620.8L1283.6 624.6L1284.7 628.3L1286 635L1287.3 640L1288.4 643.1L1289.6 644.7L1290.7 647.2L1292 652.6L1293.4 659L1294.7 665.1L1296 669.3L1297.4 674.6L1298.7 679.9L1300 695.9L1301 703.8L1302 710.3L1303 709.9L1304 710.3L1305.6 720.3L1306.9 723.6L1308.3 727.4L1309.6 729.7L1311 742.3L1312.5 749L1314 756.3L1315.5 761L1317 766.2L1318 767.3L1319 770.4L1320 767.7L1321 766.1L1322.3 765.8L1323.7 765.6L1325 766.1L1326.4 772.6L1327.4 771L1328.4 771.2L1329.7 775.8L1331 779.9L1332 785.8L1333.3 787.6L1334.7 788.5L1336 789.7L1337.3 792.1L1338.7 792.6L1340 794.8L1341.5 797.3L1343 798.2L1344.3 805.2L1345.4 803.1L1346.5 802.3L1347.8 808.2L1349 814.3L1350.5 814.6L1352 816.3L1353.5 820.1L1355 826.3L1356.1 825.5L1357.2 823.4L1358.3 822.3L1359.7 828.9L1361 834.1L1362.5 833.6L1364 834.7L1365.1 837.4L1366.2 837.6L1367.3 839.6L1368.5 839.5L1369.8 840.2L1371 839.8L1372 835.7L1373 831.1L1374.5 832.4L1376 833.6L1377 832.9L1378 831.3L1379.2 833.1L1380.3 833.9L1381.7 832.8L1383 831.2L1384.2 830.3L1385.5 831.3L1386.7 833.6L1387.8 838.1L1389 841L1390.2 838.1L1391.5 836.3L1392.8 838L1394.2 841.3L1395.5 843.2L1396.8 841.2L1398 838.1L1399.2 842.3L1400.3 846L1401.5 849.1L1402.7 847.4L1403.8 845.1L1405 844.6L1406.5 847.6L1408 848.8L1409.3 848.7L1410.7 849.3L1412 850.1L1413.3 851.8L1414.7 854.1L1416 855.9L1417.2 863.6L1418.3 871.8L1420 870.4L1421.5 876.5L1423 882.4L1424.5 890.6L1426 899.9L1427 903.3L1428 908L1429.3 910.7L1430.7 913.3L1432 915.4L1433.3 916L1434.7 914.9L1436 915.6L1437.3 914.1L1438.7 912.8L1440 912.2L1441.5 912.4L1443 914.2L1444.2 914.8L1445.4 916L1446.6 917.4L1447.8 918.8L1449 919.7L1450.5 919.7L1452 917.9L1453 919.7L1454 921.5L1455.5 921L1457 919.1L1458.5 918.3L1460 919.2L1461.5 916.1L1463 911.8L1464.5 911L1466 910.1L1467.3 906.8L1468.7 904.2L1470 899.8L1471.3 897.7L1472.7 897.3L1474 895.1L1475.3 895.2L1476.7 893.4L1478 893.8L1479.3 895.2L1480.7 896.2L1482 896.8L1483.3 898.5L1484.7 900.2L1486 903.4L1487.3 903.7L1488.7 905.2L1490 905.7L1491 905.3L1492 905.1L1493.5 908.7L1495 912.9L1496.2 913.6L1497.5 914.7L1498.8 914.5L1500 916L1501.5 918.2L1503 921.9L1504.5 919.6L1506 916.1L1507.5 917.3L1509 918.5L1510.3 916.9L1511.7 913.6L1513 912.2L1514.4 911.8L1515.8 913.6L1517.2 913.9L1518.6 914.3L1520 913.8L1521.3 913.7L1522.7 912.6L1524 912.7L1525.3 914.8L1526.7 917.9L1528 918.6L1529.2 918.6L1530.5 918.1L1531.8 918.2L1533 916.8L1534.5 918L1536 919.3L1537.5 918.3L1539 915.7L1540.3 917.4L1541.7 919.5L1543 922L1544.5 924.5L1546 924.8L1547.3 927L1548.7 931.2L1550 933.9L1551.3 936.4L1552.7 938.8L1554 941.2L1555.3 941.4L1556.7 942.9L1558 942.9L1559.3 945.4L1560.7 947.6L1562 949.3L1563.5 949.3L1565 951.3L1566.3 953.6L1567.7 955.5L1569 958.8L1570.5 961L1572 963.2L1573.5 962.7L1575 961.8L1576.2 962.6L1577.3 964.8L1578.7 962.8L1580 959.2L1581.3 958.5L1582.7 957.5L1584 958.2L1585.3 956.4L1586.7 954.6L1588 953.7L1589.3 952.6L1590.7 948.6L1592 946.9L1593.5 944L1595 939.8L1596.5 938.3L1598 937.2L1599.3 934.7L1600.7 934L1602 932.8L1603.3 930L1604.7 928.5L1606 925.2L1607.3 924.5L1608.7 923.2L1610 921.9L1611.3 919L1612.7 916L1614 912.3L1615 907.9L1616 901.9L1617.5 892.9L1619 881.9L1620.5 878.8L1622 875L1623 872.2L1624 868.1L1625.3 868.3L1626.7 866L1628 865.7L1629.5 861.6L1631 858.1L1632.5 856.6L1634 855.2L1635.5 853.5L1637 852.8L1638 856.8L1639.5 854.2L1641 852.4L1642.3 851.8L1643.7 850.5L1645 850.7L1646.5 848.9L1648 846L1649 846.3L1650 848.3L1651.5 846.2L1653 843.4L1654.5 846.8L1656 850.6L1657.5 849.7L1659 846.7L1660.5 847.9L1662 847.5L1663.5 847.2L1665 844.8L1666 846.6L1667 850.3L1668.5 846L1670 841.7L1671.5 841.6L1673 841.1L1674.5 837.9L1676 834.3L1677.3 830.6L1678.7 828.5L1680 825L1681 820.3L1682 813.6L1683 812.8L1684 810.1L1685.5 809.9L1687 808.3L1688 804.7L1689 803.1L1690.5 803.8L1692 804.3L1693 801.8L1694 800L1695.9 785L1697.1 783.3L1698.3 783.4L1699.6 774.1L1700.9 763.4L1702.4 754.3L1703.9 745.7L1705.4 745.2L1706.9 745.1L1708.4 735.4L1709.9 728.2L1711.1 723.8L1712.3 718.3L1713.5 712.9L1714.6 707.7L1715.8 703.9L1717.3 698.3L1718.8 694.1L1720.1 684.9L1721.4 674.2L1722.8 664.3L1724.2 654L1725.2 640.7L1726.2 627.1L1727.5 625.8L1728.8 623.8L1729.8 616.2L1730.8 610.1L1731.8 596.1L1733.1 590.4L1734.4 585.7L1735.8 562L1737 558.1L1738.2 554.7L1739.3 547.3L1740.4 540.1L1741.6 539L1742.8 539L1744.1 534.4L1745.4 529L1746.6 529.1L1747.8 527.7L1748.8 517.3L1749.8 505.6L1751.3 507.5L1752.8 507.9L1754.1 499L1755.4 489.7L1756.6 492.7L1757.8 495.1L1759.3 491.3L1760.8 488.6L1762.3 492.9L1763.8 495.8L1765.3 495.1L1766.8 494.7L1768.4 487.9L1769.8 496.8L1771 488.4L1772.2 480.3L1773.5 472.3L1774.8 463.6L1776.3 454.5L1777.8 443.6L1779.3 448.1L1780.8 453.2L1782.1 441.3L1783.4 429L1784.4 428L1785.4 428L1786.6 416.7L1787.8 407.2L1789.3 405.6L1790.8 403.1L1792.1 391.4L1793.4 381.9L1794.6 385.6L1795.8 388.3L1797 381.6L1798.2 376.2L1799.4 369.1L1800.6 371.8L1801.8 374.3L1803 367.4L1804.2 359.2L1805.7 355L1807.2 350.9"/>
<path class="c" stroke="#ff2000" d="M233.0 203.9 V257.8 M222.0 203.9 h22 M222.0 257.8 h22M307.9 229.2 V281.8 M296.9 229.2 h22 M296.9 281.8 h22M375.3 477.6 V537.8 M364.3 477.6 h22 M364.3 537.8 h22M440.3 616.7 V664.0 M429.3 616.7 h22 M429.3 664.0 h22M502.1 666.5 V728.6 M491.1 666.5 h22 M491.1 728.6 h22M563.0 757.0 V819.3 M552.0 757.0 h22 M552.0 819.3 h22M626.1 798.1 V851.8 M615.1 798.1 h22 M615.1 851.8 h22M684.8 847.0 V898.4 M673.8 847.0 h22 M673.8 898.4 h22M748.2 820.9 V889.8 M737.2 820.9 h22 M737.2 889.8 h22M810.1 819.5 V875.2 M799.1 819.5 h22 M799.1 875.2 h22M867.0 759.0 V809.0 M856.0 759.0 h22 M856.0 809.0 h22M929.4 661.6 V723.0 M918.4 661.6 h22 M918.4 723.0 h22M989.0 440.1 V495.4 M978.0 440.1 h22 M978.0 495.4 h22M1049.9 478.8 V532.8 M1038.9 478.8 h22 M1038.9 532.8 h22M1109.2 446.9 V501.2 M1098.2 446.9 h22 M1098.2 501.2 h22M1168.0 375.5 V431.5 M1157.0 375.5 h22 M1157.0 431.5 h22M1227.3 384.1 V449.1 M1216.3 384.1 h22 M1216.3 449.1 h22M1291.2 619.6 V680.4 M1280.2 619.6 h22 M1280.2 680.4 h22M1351.5 784.7 V843.6 M1340.5 784.7 h22 M1340.5 843.6 h22M1412.9 820.9 V888.2 M1401.9 820.9 h22 M1401.9 888.2 h22M1474.8 857.4 V930.7 M1463.8 857.4 h22 M1463.8 930.7 h22M1532.0 888.5 V949.4 M1521.0 888.5 h22 M1521.0 949.4 h22M1593.3 913.3 V977.4 M1582.3 913.3 h22 M1582.3 977.4 h22M1653.8 815.6 V874.1 M1642.8 815.6 h22 M1642.8 874.1 h22M1716.4 662.5 V734.6 M1705.4 662.5 h22 M1705.4 734.6 h22M1776.8 436.1 V486.0 M1765.8 436.1 h22 M1765.8 486.0 h22"/>
<rect class="fr" x="192.05" y="2.55" width="1744.05" height="1130.70"/>
<path class="fr" style="stroke-width:2.3" d="M264.7 2.4v17M264.7 1133.25v-17M337.4 2.4v17M337.4 1133.25v-17M410.1 2.4v33.7M410.1 1133.25v-33.7M482.7 2.4v17M482.7 1133.25v-17M555.4 2.4v17M555.4 1133.25v-17M628.1 2.4v33.7M628.1 1133.25v-33.7M700.7 2.4v17M700.7 1133.25v-17M773.4 2.4v17M773.4 1133.25v-17M846.1 2.4v33.7M846.1 1133.25v-33.7M918.7 2.4v17M918.7 1133.25v-17M991.4 2.4v17M991.4 1133.25v-17M1064.1 2.4v33.7M1064.1 1133.25v-33.7M1136.7 2.4v17M1136.7 1133.25v-17M1209.4 2.4v17M1209.4 1133.25v-17M1282.1 2.4v33.7M1282.1 1133.25v-33.7M1354.8 2.4v17M1354.8 1133.25v-17M1427.4 2.4v17M1427.4 1133.25v-17M1500.1 2.4v33.7M1500.1 1133.25v-33.7M1572.8 2.4v17M1572.8 1133.25v-17M1645.4 2.4v17M1645.4 1133.25v-17M1718.1 2.4v33.7M1718.1 1133.25v-33.7M1790.8 2.4v17M1790.8 1133.25v-17M1863.4 2.4v17M1863.4 1133.25v-17M192.05 228.9h34.5M1936.1 228.9h-34.5M192.05 455.0h34.5M1936.1 455.0h-34.5M192.05 681.2h34.5M1936.1 681.2h-34.5M192.05 907.4h34.5M1936.1 907.4h-34.5"/>
<text class="t ax" transform="translate(123.9 1212.3) scale(1.06 1)">2001</text>
<text class="t ax" transform="translate(341.9 1212.3) scale(1.06 1)">2003</text>
<text class="t ax" transform="translate(559.9 1212.3) scale(1.06 1)">2007</text>
<text class="t ax" transform="translate(777.9 1212.3) scale(1.06 1)">2010</text>
<text class="t ax" transform="translate(995.9 1212.3) scale(1.06 1)">2013</text>
<text class="t ax" transform="translate(1213.9 1212.3) scale(1.06 1)">2016</text>
<text class="t ax" transform="translate(1431.9 1212.3) scale(1.06 1)">2019</text>
<text class="t ax" transform="translate(1649.9 1212.3) scale(1.06 1)">2022</text>
<text class="t ax" transform="translate(1867.9 1212.3) scale(1.06 1)">2025</text>
<text class="t ax" transform="translate(172.7 38.0) scale(1.06 1)" text-anchor="end" style="letter-spacing:0">9</text>
<text class="t ax" transform="translate(172.7 249.0) scale(1.06 1)" text-anchor="end" style="letter-spacing:0">7</text>
<text class="t ax" transform="translate(172.7 475.1) scale(1.06 1)" text-anchor="end" style="letter-spacing:0">5</text>
<text class="t ax" transform="translate(172.7 701.3) scale(1.06 1)" text-anchor="end" style="letter-spacing:0">3</text>
<text class="t ax" transform="translate(172.7 927.5) scale(1.06 1)" text-anchor="end" style="letter-spacing:0">1</text>
<text class="t ax" transform="translate(172.7 1133.0) scale(1.06 1)" text-anchor="end" style="letter-spacing:0" x="0" dx="0 4.6" dy="1 -1"><tspan textLength="35.6" lengthAdjust="spacingAndGlyphs">−</tspan>1</text>
<text class="t ax" y="1280" style="letter-spacing:0" x="997.3 1036.0 1070.3 1105.0"><tspan textLength="36.2" lengthAdjust="spacingAndGlyphs">Y</tspan><tspan textLength="30.1" lengthAdjust="spacingAndGlyphs">e</tspan><tspan textLength="29.8" lengthAdjust="spacingAndGlyphs">a</tspan><tspan textLength="25.6" lengthAdjust="spacingAndGlyphs">r</tspan></text>
<text class="t ax" transform="translate(46.2 0) rotate(-90)" style="letter-spacing:0" x="-696.5 -660.6 -610.0 -598.7 -576.3 -533.7 -490.5 -457.9"><tspan class="i">δν</tspan> (<tspan class="i" textLength="40" lengthAdjust="spacingAndGlyphs">μ</tspan><tspan textLength="38" lengthAdjust="spacingAndGlyphs">H</tspan>z)</text>
<line x1="868" y1="70.9" x2="944.2" y2="70.9" stroke="#000000" stroke-width="2.3"/>
<text class="t" x="1014" y="89.2"><tspan class="lg">1500</tspan> <tspan class="m op" x="1133.2" dy="-3.2" style="font-size:38.82px" textLength="28.96" lengthAdjust="spacingAndGlyphs">≦</tspan> <tspan class="lg i" x="1175.5" dy="3.2" style="font-size:41.5px">ν</tspan> <tspan class="m op" x="1218.6" dy="-3.2" style="font-size:38.82px" textLength="28.96" lengthAdjust="spacingAndGlyphs">≦</tspan> <tspan class="lg" x="1270" dy="3.2">5200</tspan></text>
<line x1="868" y1="127.5" x2="944.2" y2="127.5" stroke="#0010ff" stroke-width="2.3"/>
<text class="t" x="1014" y="145.8"><tspan class="lg">1500</tspan> <tspan class="m op" x="1133.2" dy="-3.2" style="font-size:38.82px" textLength="28.96" lengthAdjust="spacingAndGlyphs">≦</tspan> <tspan class="lg i" x="1175.5" dy="3.2" style="font-size:41.5px">ν</tspan> <tspan class="ltc" x="1218.8" dy="5.0" style="font-size:47.60px" textLength="23.91" lengthAdjust="spacingAndGlyphs">&lt;</tspan> <tspan class="lg" x="1270" dy="-5.0">2500</tspan></text>
<line x1="868" y1="184.1" x2="944.2" y2="184.1" stroke="#00f0ff" stroke-width="2.3"/>
<text class="t" x="1014" y="202.4"><tspan class="lg">2500</tspan> <tspan class="m op" x="1133.2" dy="-3.2" style="font-size:38.82px" textLength="28.96" lengthAdjust="spacingAndGlyphs">≦</tspan> <tspan class="lg i" x="1175.5" dy="3.2" style="font-size:41.5px">ν</tspan> <tspan class="ltc" x="1218.8" dy="5.0" style="font-size:47.60px" textLength="23.91" lengthAdjust="spacingAndGlyphs">&lt;</tspan> <tspan class="lg" x="1270" dy="-5.0">3500</tspan></text>
<line x1="868" y1="240.7" x2="944.2" y2="240.7" stroke="#ffc000" stroke-width="2.3"/>
<text class="t" x="1014" y="259.0"><tspan class="lg">3500</tspan> <tspan class="m op" x="1133.2" dy="-3.2" style="font-size:38.82px" textLength="28.96" lengthAdjust="spacingAndGlyphs">≦</tspan> <tspan class="lg i" x="1175.5" dy="3.2" style="font-size:41.5px">ν</tspan> <tspan class="ltc" x="1218.8" dy="5.0" style="font-size:47.60px" textLength="23.91" lengthAdjust="spacingAndGlyphs">&lt;</tspan> <tspan class="lg" x="1270" dy="-5.0">4500</tspan></text>
<line x1="868" y1="297.3" x2="944.2" y2="297.3" stroke="#ff2000" stroke-width="2.3"/>
<text class="t" x="1014" y="315.6"><tspan class="lg">4500</tspan> <tspan class="m op" x="1133.2" dy="-3.2" style="font-size:38.82px" textLength="28.96" lengthAdjust="spacingAndGlyphs">≦</tspan> <tspan class="lg i" x="1175.5" dy="3.2" style="font-size:41.5px">ν</tspan> <tspan class="m op" x="1218.6" dy="-3.2" style="font-size:38.82px" textLength="28.96" lengthAdjust="spacingAndGlyphs">≦</tspan> <tspan class="lg" x="1270" dy="3.2">5200</tspan></text>
</svg></body></html>
